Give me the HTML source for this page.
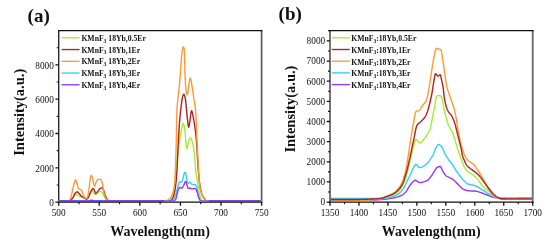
<!DOCTYPE html>
<html><head><meta charset="utf-8"><style>
html,body{margin:0;padding:0;background:#fff;}
svg{display:block;}
text{font-family:"Liberation Serif","Times New Roman",serif;fill:#111;}
.tk text{font-size:9.3px;}
.lg{font-size:7.7px;font-weight:bold;}
.sub{font-size:5.5px;}
.ttl{font-weight:bold;}
.cv path{fill:none;stroke-width:1.4;stroke-linejoin:round;}
</style></head><body>
<svg width="550" height="250" viewBox="0 0 550 250">
<rect width="550" height="250" fill="#fff"/>
<g class="cv">
<path d="M330.00,200.31 L330.40,200.31 L330.80,200.31 L331.20,200.31 L331.60,200.31 L332.00,200.31 L332.40,200.31 L332.80,200.31 L333.20,200.31 L333.60,200.31 L334.00,200.31 L334.40,200.31 L334.80,200.31 L335.20,200.31 L335.60,200.31 L336.00,200.31 L336.40,200.31 L336.80,200.31 L337.20,200.31 L337.60,200.31 L338.00,200.31 L338.40,200.31 L338.80,200.30 L339.20,200.30 L339.60,200.30 L340.00,200.30 L340.40,200.30 L340.80,200.30 L341.20,200.30 L341.60,200.30 L342.00,200.30 L342.40,200.30 L342.80,200.30 L343.20,200.30 L343.60,200.30 L344.00,200.30 L344.40,200.30 L344.80,200.30 L345.20,200.30 L345.60,200.30 L346.00,200.30 L346.40,200.30 L346.80,200.30 L347.20,200.30 L347.60,200.30 L348.00,200.30 L348.40,200.30 L348.80,200.30 L349.20,200.30 L349.60,200.30 L350.00,200.30 L350.40,200.30 L350.80,200.30 L351.20,200.30 L351.60,200.30 L352.00,200.30 L352.40,200.29 L352.80,200.29 L353.20,200.29 L353.60,200.29 L354.00,200.29 L354.40,200.29 L354.80,200.29 L355.20,200.29 L355.60,200.29 L356.00,200.29 L356.40,200.29 L356.80,200.29 L357.20,200.29 L357.60,200.29 L358.00,200.29 L358.40,200.29 L358.80,200.29 L359.20,200.29 L359.60,200.29 L360.00,200.28 L360.40,200.28 L360.80,200.28 L361.20,200.28 L361.60,200.28 L362.00,200.28 L362.40,200.27 L362.80,200.27 L363.20,200.27 L363.60,200.27 L364.00,200.26 L364.40,200.26 L364.80,200.26 L365.20,200.25 L365.60,200.25 L366.00,200.24 L366.40,200.24 L366.80,200.24 L367.20,200.23 L367.60,200.23 L368.00,200.22 L368.40,200.22 L368.80,200.21 L369.20,200.21 L369.60,200.20 L370.00,200.19 L370.40,200.19 L370.80,200.18 L371.20,200.17 L371.60,200.16 L372.00,200.15 L372.40,200.14 L372.80,200.12 L373.20,200.11 L373.60,200.09 L374.00,200.07 L374.40,200.05 L374.80,200.03 L375.20,200.00 L375.60,199.98 L376.00,199.95 L376.40,199.93 L376.80,199.90 L377.20,199.87 L377.60,199.84 L378.00,199.81 L378.40,199.78 L378.80,199.75 L379.20,199.72 L379.60,199.69 L380.00,199.66 L380.40,199.62 L380.80,199.59 L381.20,199.56 L381.60,199.52 L382.00,199.49 L382.40,199.46 L382.80,199.42 L383.20,199.38 L383.60,199.35 L384.00,199.31 L384.40,199.27 L384.80,199.22 L385.20,199.18 L385.60,199.13 L386.00,199.09 L386.40,199.04 L386.80,198.99 L387.20,198.94 L387.60,198.89 L388.00,198.83 L388.40,198.78 L388.80,198.72 L389.20,198.66 L389.60,198.60 L390.00,198.54 L390.40,198.47 L390.80,198.41 L391.20,198.34 L391.60,198.27 L392.00,198.20 L392.40,198.13 L392.80,198.06 L393.20,197.98 L393.60,197.91 L394.00,197.83 L394.40,197.75 L394.80,197.66 L395.20,197.57 L395.60,197.47 L396.00,197.37 L396.40,197.27 L396.80,197.16 L397.20,197.05 L397.60,196.93 L398.00,196.80 L398.40,196.67 L398.80,196.53 L399.20,196.38 L399.60,196.23 L400.00,196.07 L400.40,195.90 L400.80,195.72 L401.20,195.53 L401.60,195.31 L402.00,195.07 L402.40,194.82 L402.80,194.55 L403.20,194.26 L403.60,193.95 L404.00,193.63 L404.40,193.28 L404.80,192.92 L405.20,192.54 L405.60,192.14 L406.00,191.72 L406.40,191.22 L406.80,190.61 L407.20,189.93 L407.60,189.20 L408.00,188.46 L408.40,187.73 L408.80,187.04 L409.20,186.42 L409.60,185.87 L410.00,185.32 L410.40,184.79 L410.80,184.28 L411.20,183.79 L411.60,183.32 L412.00,182.88 L412.40,182.47 L412.80,182.10 L413.20,181.72 L413.60,181.32 L414.00,180.94 L414.40,180.61 L414.80,180.36 L415.20,180.22 L415.60,180.21 L416.00,180.37 L416.40,180.64 L416.80,180.99 L417.20,181.35 L417.60,181.67 L418.00,181.91 L418.40,182.07 L418.80,182.22 L419.20,182.36 L419.60,182.48 L420.00,182.56 L420.40,182.59 L420.80,182.58 L421.20,182.53 L421.60,182.45 L422.00,182.34 L422.40,182.22 L422.80,182.09 L423.20,181.95 L423.60,181.82 L424.00,181.69 L424.40,181.57 L424.80,181.44 L425.20,181.31 L425.60,181.16 L426.00,181.01 L426.40,180.84 L426.80,180.65 L427.20,180.45 L427.60,180.22 L428.00,179.95 L428.40,179.61 L428.80,179.20 L429.20,178.75 L429.60,178.26 L430.00,177.73 L430.40,177.19 L430.80,176.65 L431.20,176.11 L431.60,175.57 L432.00,174.99 L432.40,174.39 L432.80,173.77 L433.20,173.13 L433.60,172.49 L434.00,171.86 L434.40,171.22 L434.80,170.53 L435.20,169.79 L435.60,169.09 L436.00,168.46 L436.40,167.98 L436.80,167.68 L437.20,167.44 L437.60,167.24 L438.00,167.06 L438.40,166.91 L438.80,166.75 L439.20,166.59 L439.60,166.45 L440.00,166.40 L440.40,166.58 L440.80,167.06 L441.20,167.76 L441.60,168.62 L442.00,169.54 L442.40,170.47 L442.80,171.31 L443.20,172.00 L443.60,172.59 L444.00,173.17 L444.40,173.75 L444.80,174.30 L445.20,174.81 L445.60,175.27 L446.00,175.67 L446.40,176.00 L446.80,176.26 L447.20,176.49 L447.60,176.69 L448.00,176.87 L448.40,177.04 L448.80,177.21 L449.20,177.40 L449.60,177.60 L450.00,177.82 L450.40,178.03 L450.80,178.25 L451.20,178.47 L451.60,178.70 L452.00,178.93 L452.40,179.18 L452.80,179.44 L453.20,179.71 L453.60,180.00 L454.00,180.32 L454.40,180.67 L454.80,181.05 L455.20,181.46 L455.60,181.87 L456.00,182.30 L456.40,182.74 L456.80,183.17 L457.20,183.59 L457.60,184.00 L458.00,184.41 L458.40,184.82 L458.80,185.24 L459.20,185.66 L459.60,186.07 L460.00,186.46 L460.40,186.84 L460.80,187.20 L461.20,187.55 L461.60,187.91 L462.00,188.26 L462.40,188.60 L462.80,188.91 L463.20,189.19 L463.60,189.42 L464.00,189.60 L464.40,189.74 L464.80,189.88 L465.20,190.01 L465.60,190.14 L466.00,190.25 L466.40,190.36 L466.80,190.46 L467.20,190.56 L467.60,190.64 L468.00,190.71 L468.40,190.77 L468.80,190.82 L469.20,190.86 L469.60,190.89 L470.00,190.91 L470.40,190.92 L470.80,190.93 L471.20,190.93 L471.60,190.94 L472.00,190.95 L472.40,190.95 L472.80,190.96 L473.20,190.96 L473.60,190.97 L474.00,190.98 L474.40,190.99 L474.80,191.00 L475.20,191.03 L475.60,191.08 L476.00,191.15 L476.40,191.23 L476.80,191.33 L477.20,191.44 L477.60,191.56 L478.00,191.69 L478.40,191.82 L478.80,191.95 L479.20,192.08 L479.60,192.20 L480.00,192.32 L480.40,192.45 L480.80,192.59 L481.20,192.73 L481.60,192.88 L482.00,193.03 L482.40,193.18 L482.80,193.34 L483.20,193.50 L483.60,193.66 L484.00,193.82 L484.40,193.98 L484.80,194.14 L485.20,194.29 L485.60,194.45 L486.00,194.60 L486.40,194.75 L486.80,194.91 L487.20,195.07 L487.60,195.23 L488.00,195.39 L488.40,195.56 L488.80,195.72 L489.20,195.88 L489.60,196.04 L490.00,196.19 L490.40,196.35 L490.80,196.49 L491.20,196.63 L491.60,196.76 L492.00,196.89 L492.40,197.00 L492.80,197.11 L493.20,197.21 L493.60,197.30 L494.00,197.39 L494.40,197.48 L494.80,197.56 L495.20,197.65 L495.60,197.73 L496.00,197.81 L496.40,197.89 L496.80,197.97 L497.20,198.06 L497.60,198.14 L498.00,198.24 L498.40,198.35 L498.80,198.46 L499.20,198.57 L499.60,198.69 L500.00,198.80 L500.40,198.90 L500.80,199.00 L501.20,199.09 L501.60,199.17 L502.00,199.23 L502.40,199.27 L502.80,199.30 L503.20,199.30 L503.60,199.30 L504.00,199.30 L504.40,199.30 L504.80,199.30 L505.20,199.30 L505.60,199.30 L506.00,199.30 L506.40,199.30 L506.80,199.30 L507.20,199.30 L507.60,199.30 L508.00,199.30 L508.40,199.30 L508.80,199.30 L509.20,199.30 L509.60,199.30 L510.00,199.30 L510.40,199.30 L510.80,199.30 L511.20,199.30 L511.60,199.30 L512.00,199.30 L512.40,199.30 L512.80,199.30 L513.20,199.30 L513.60,199.30 L514.00,199.30 L514.40,199.30 L514.80,199.30 L515.20,199.30 L515.60,199.30 L516.00,199.30 L516.40,199.30 L516.80,199.30 L517.20,199.30 L517.60,199.30 L518.00,199.30 L518.40,199.30 L518.80,199.30 L519.20,199.30 L519.60,199.30 L520.00,199.30 L520.40,199.30 L520.80,199.30 L521.20,199.30 L521.60,199.30 L522.00,199.30 L522.40,199.30 L522.80,199.30 L523.20,199.30 L523.60,199.30 L524.00,199.30 L524.40,199.30 L524.80,199.30 L525.20,199.30 L525.60,199.30 L526.00,199.30 L526.40,199.30 L526.80,199.30 L527.20,199.30 L527.60,199.30 L528.00,199.30 L528.40,199.30 L528.80,199.30 L529.20,199.30 L529.60,199.30 L530.00,199.30 L530.40,199.30 L530.80,199.30 L531.20,199.30 L531.60,199.30 L532.00,199.30 L532.40,199.30" stroke="#9436f8"/>
<path d="M330.00,200.31 L330.40,200.31 L330.80,200.31 L331.20,200.31 L331.60,200.31 L332.00,200.31 L332.40,200.31 L332.80,200.31 L333.20,200.31 L333.60,200.31 L334.00,200.31 L334.40,200.31 L334.80,200.31 L335.20,200.31 L335.60,200.31 L336.00,200.31 L336.40,200.31 L336.80,200.31 L337.20,200.31 L337.60,200.31 L338.00,200.31 L338.40,200.31 L338.80,200.31 L339.20,200.30 L339.60,200.30 L340.00,200.30 L340.40,200.30 L340.80,200.30 L341.20,200.30 L341.60,200.30 L342.00,200.30 L342.40,200.30 L342.80,200.30 L343.20,200.30 L343.60,200.30 L344.00,200.30 L344.40,200.30 L344.80,200.30 L345.20,200.30 L345.60,200.30 L346.00,200.30 L346.40,200.30 L346.80,200.30 L347.20,200.30 L347.60,200.30 L348.00,200.30 L348.40,200.30 L348.80,200.30 L349.20,200.30 L349.60,200.30 L350.00,200.30 L350.40,200.30 L350.80,200.30 L351.20,200.30 L351.60,200.30 L352.00,200.30 L352.40,200.30 L352.80,200.29 L353.20,200.29 L353.60,200.29 L354.00,200.29 L354.40,200.29 L354.80,200.29 L355.20,200.29 L355.60,200.29 L356.00,200.29 L356.40,200.29 L356.80,200.29 L357.20,200.29 L357.60,200.29 L358.00,200.29 L358.40,200.29 L358.80,200.29 L359.20,200.29 L359.60,200.28 L360.00,200.28 L360.40,200.28 L360.80,200.27 L361.20,200.26 L361.60,200.25 L362.00,200.25 L362.40,200.24 L362.80,200.22 L363.20,200.21 L363.60,200.20 L364.00,200.19 L364.40,200.17 L364.80,200.16 L365.20,200.14 L365.60,200.12 L366.00,200.11 L366.40,200.09 L366.80,200.07 L367.20,200.05 L367.60,200.03 L368.00,200.01 L368.40,199.99 L368.80,199.97 L369.20,199.95 L369.60,199.93 L370.00,199.91 L370.40,199.89 L370.80,199.87 L371.20,199.85 L371.60,199.82 L372.00,199.80 L372.40,199.77 L372.80,199.74 L373.20,199.71 L373.60,199.68 L374.00,199.65 L374.40,199.61 L374.80,199.58 L375.20,199.54 L375.60,199.50 L376.00,199.46 L376.40,199.42 L376.80,199.38 L377.20,199.33 L377.60,199.29 L378.00,199.24 L378.40,199.19 L378.80,199.14 L379.20,199.09 L379.60,199.04 L380.00,198.98 L380.40,198.93 L380.80,198.87 L381.20,198.81 L381.60,198.75 L382.00,198.69 L382.40,198.63 L382.80,198.56 L383.20,198.49 L383.60,198.42 L384.00,198.34 L384.40,198.26 L384.80,198.18 L385.20,198.09 L385.60,198.00 L386.00,197.90 L386.40,197.80 L386.80,197.70 L387.20,197.59 L387.60,197.47 L388.00,197.35 L388.40,197.23 L388.80,197.11 L389.20,196.97 L389.60,196.84 L390.00,196.70 L390.40,196.55 L390.80,196.40 L391.20,196.25 L391.60,196.08 L392.00,195.92 L392.40,195.75 L392.80,195.57 L393.20,195.39 L393.60,195.20 L394.00,195.00 L394.40,194.78 L394.80,194.53 L395.20,194.27 L395.60,193.98 L396.00,193.67 L396.40,193.34 L396.80,192.99 L397.20,192.62 L397.60,192.24 L398.00,191.83 L398.40,191.41 L398.80,190.97 L399.20,190.51 L399.60,190.03 L400.00,189.54 L400.40,189.03 L400.80,188.49 L401.20,187.87 L401.60,187.19 L402.00,186.45 L402.40,185.66 L402.80,184.82 L403.20,183.94 L403.60,183.02 L404.00,182.07 L404.40,181.09 L404.80,180.08 L405.20,178.97 L405.60,177.79 L406.00,176.54 L406.40,175.23 L406.80,173.88 L407.20,172.48 L407.60,171.06 L408.00,169.62 L408.40,168.08 L408.80,166.44 L409.20,164.73 L409.60,162.96 L410.00,161.16 L410.40,159.36 L410.80,157.58 L411.20,155.85 L411.60,154.18 L412.00,152.61 L412.40,151.13 L412.80,149.54 L413.20,147.86 L413.60,146.17 L414.00,144.52 L414.40,143.00 L414.80,141.68 L415.20,140.62 L415.60,139.90 L416.00,139.60 L416.40,139.66 L416.80,139.88 L417.20,140.23 L417.60,140.65 L418.00,141.13 L418.40,141.60 L418.80,142.05 L419.20,142.42 L419.60,142.68 L420.00,142.80 L420.40,142.76 L420.80,142.60 L421.20,142.35 L421.60,142.02 L422.00,141.61 L422.40,141.15 L422.80,140.64 L423.20,140.09 L423.60,139.53 L424.00,138.96 L424.40,138.40 L424.80,137.85 L425.20,137.34 L425.60,136.82 L426.00,136.30 L426.40,135.76 L426.80,135.20 L427.20,134.60 L427.60,133.98 L428.00,133.30 L428.40,132.58 L428.80,131.80 L429.20,130.95 L429.60,130.03 L430.00,128.89 L430.40,127.46 L430.80,125.88 L431.20,124.12 L431.60,122.16 L432.00,120.11 L432.40,118.06 L432.80,116.03 L433.20,114.00 L433.60,111.93 L434.00,109.82 L434.40,107.66 L434.80,105.44 L435.20,102.90 L435.60,100.25 L436.00,98.27 L436.40,96.89 L436.80,95.99 L437.20,95.81 L437.60,95.69 L438.00,95.61 L438.40,95.55 L438.80,95.52 L439.20,95.51 L439.60,95.55 L440.00,95.66 L440.40,95.84 L440.80,96.09 L441.20,96.40 L441.60,97.32 L442.00,98.77 L442.40,100.38 L442.80,102.30 L443.20,104.40 L443.60,106.54 L444.00,108.60 L444.40,110.44 L444.80,112.18 L445.20,113.87 L445.60,115.51 L446.00,117.09 L446.40,118.59 L446.80,120.00 L447.20,121.36 L447.60,122.67 L448.00,123.91 L448.40,125.03 L448.80,126.00 L449.20,126.81 L449.60,127.51 L450.00,128.17 L450.40,128.83 L450.80,129.51 L451.20,130.16 L451.60,130.81 L452.00,131.50 L452.40,132.29 L452.80,133.21 L453.20,134.28 L453.60,135.48 L454.00,136.75 L454.40,138.06 L454.80,139.36 L455.20,140.64 L455.60,141.96 L456.00,143.32 L456.40,144.70 L456.80,146.08 L457.20,147.43 L457.60,148.75 L458.00,150.00 L458.40,151.20 L458.80,152.36 L459.20,153.49 L459.60,154.60 L460.00,155.69 L460.40,156.77 L460.80,157.84 L461.20,158.92 L461.60,160.00 L462.00,161.13 L462.40,162.31 L462.80,163.48 L463.20,164.58 L463.60,165.58 L464.00,166.40 L464.40,167.10 L464.80,167.75 L465.20,168.36 L465.60,168.93 L466.00,169.46 L466.40,169.96 L466.80,170.41 L467.20,170.84 L467.60,171.24 L468.00,171.60 L468.40,171.93 L468.80,172.24 L469.20,172.51 L469.60,172.76 L470.00,173.00 L470.40,173.23 L470.80,173.45 L471.20,173.66 L471.60,173.88 L472.00,174.11 L472.40,174.35 L472.80,174.61 L473.20,174.89 L473.60,175.20 L474.00,175.54 L474.40,175.89 L474.80,176.27 L475.20,176.67 L475.60,177.09 L476.00,177.52 L476.40,177.96 L476.80,178.42 L477.20,178.89 L477.60,179.37 L478.00,179.86 L478.40,180.35 L478.80,180.86 L479.20,181.42 L479.60,182.01 L480.00,182.62 L480.40,183.21 L480.80,183.75 L481.20,184.24 L481.60,184.70 L482.00,185.14 L482.40,185.56 L482.80,185.97 L483.20,186.37 L483.60,186.76 L484.00,187.14 L484.40,187.52 L484.80,187.89 L485.20,188.26 L485.60,188.63 L486.00,189.00 L486.40,189.37 L486.80,189.75 L487.20,190.12 L487.60,190.50 L488.00,190.87 L488.40,191.24 L488.80,191.60 L489.20,191.96 L489.60,192.32 L490.00,192.67 L490.40,193.01 L490.80,193.34 L491.20,193.67 L491.60,193.99 L492.00,194.30 L492.40,194.60 L492.80,194.90 L493.20,195.20 L493.60,195.49 L494.00,195.79 L494.40,196.08 L494.80,196.36 L495.20,196.63 L495.60,196.89 L496.00,197.13 L496.40,197.35 L496.80,197.55 L497.20,197.72 L497.60,197.87 L498.00,198.02 L498.40,198.16 L498.80,198.30 L499.20,198.44 L499.60,198.57 L500.00,198.69 L500.40,198.80 L500.80,198.90 L501.20,198.99 L501.60,199.07 L502.00,199.13 L502.40,199.17 L502.80,199.20 L503.20,199.20 L503.60,199.21 L504.00,199.21 L504.40,199.21 L504.80,199.21 L505.20,199.22 L505.60,199.22 L506.00,199.22 L506.40,199.23 L506.80,199.23 L507.20,199.23 L507.60,199.23 L508.00,199.24 L508.40,199.24 L508.80,199.24 L509.20,199.24 L509.60,199.25 L510.00,199.25 L510.40,199.25 L510.80,199.25 L511.20,199.26 L511.60,199.26 L512.00,199.26 L512.40,199.26 L512.80,199.26 L513.20,199.26 L513.60,199.27 L514.00,199.27 L514.40,199.27 L514.80,199.27 L515.20,199.27 L515.60,199.27 L516.00,199.28 L516.40,199.28 L516.80,199.28 L517.20,199.28 L517.60,199.28 L518.00,199.28 L518.40,199.28 L518.80,199.28 L519.20,199.29 L519.60,199.29 L520.00,199.29 L520.40,199.29 L520.80,199.29 L521.20,199.29 L521.60,199.29 L522.00,199.29 L522.40,199.29 L522.80,199.29 L523.20,199.29 L523.60,199.29 L524.00,199.29 L524.40,199.30 L524.80,199.30 L525.20,199.30 L525.60,199.30 L526.00,199.30 L526.40,199.30 L526.80,199.30 L527.20,199.30 L527.60,199.30 L528.00,199.30 L528.40,199.30 L528.80,199.30 L529.20,199.30 L529.60,199.30 L530.00,199.30 L530.40,199.30 L530.80,199.30 L531.20,199.30 L531.60,199.30 L532.00,199.30 L532.40,199.30" stroke="#a2ee30"/>
<path d="M330.00,198.39 L330.40,198.39 L330.80,198.39 L331.20,198.39 L331.60,198.39 L332.00,198.39 L332.40,198.39 L332.80,198.39 L333.20,198.39 L333.60,198.39 L334.00,198.39 L334.40,198.39 L334.80,198.39 L335.20,198.39 L335.60,198.39 L336.00,198.39 L336.40,198.39 L336.80,198.39 L337.20,198.39 L337.60,198.39 L338.00,198.39 L338.40,198.39 L338.80,198.39 L339.20,198.39 L339.60,198.39 L340.00,198.39 L340.40,198.39 L340.80,198.39 L341.20,198.39 L341.60,198.39 L342.00,198.39 L342.40,198.39 L342.80,198.39 L343.20,198.39 L343.60,198.39 L344.00,198.39 L344.40,198.39 L344.80,198.39 L345.20,198.39 L345.60,198.39 L346.00,198.39 L346.40,198.39 L346.80,198.39 L347.20,198.39 L347.60,198.39 L348.00,198.39 L348.40,198.39 L348.80,198.39 L349.20,198.39 L349.60,198.39 L350.00,198.39 L350.40,198.39 L350.80,198.39 L351.20,198.39 L351.60,198.39 L352.00,198.39 L352.40,198.39 L352.80,198.39 L353.20,198.39 L353.60,198.39 L354.00,198.39 L354.40,198.39 L354.80,198.39 L355.20,198.39 L355.60,198.39 L356.00,198.39 L356.40,198.39 L356.80,198.39 L357.20,198.39 L357.60,198.39 L358.00,198.39 L358.40,198.39 L358.80,198.39 L359.20,198.39 L359.60,198.39 L360.00,198.39 L360.40,198.39 L360.80,198.39 L361.20,198.39 L361.60,198.40 L362.00,198.40 L362.40,198.40 L362.80,198.40 L363.20,198.40 L363.60,198.40 L364.00,198.40 L364.40,198.41 L364.80,198.41 L365.20,198.41 L365.60,198.41 L366.00,198.41 L366.40,198.42 L366.80,198.42 L367.20,198.42 L367.60,198.42 L368.00,198.42 L368.40,198.43 L368.80,198.43 L369.20,198.43 L369.60,198.43 L370.00,198.44 L370.40,198.44 L370.80,198.44 L371.20,198.44 L371.60,198.45 L372.00,198.45 L372.40,198.45 L372.80,198.45 L373.20,198.45 L373.60,198.46 L374.00,198.46 L374.40,198.46 L374.80,198.46 L375.20,198.46 L375.60,198.46 L376.00,198.47 L376.40,198.47 L376.80,198.47 L377.20,198.47 L377.60,198.47 L378.00,198.47 L378.40,198.47 L378.80,198.47 L379.20,198.47 L379.60,198.47 L380.00,198.47 L380.40,198.47 L380.80,198.46 L381.20,198.45 L381.60,198.44 L382.00,198.43 L382.40,198.41 L382.80,198.39 L383.20,198.36 L383.60,198.34 L384.00,198.31 L384.40,198.28 L384.80,198.25 L385.20,198.21 L385.60,198.18 L386.00,198.14 L386.40,198.10 L386.80,198.06 L387.20,198.02 L387.60,197.98 L388.00,197.93 L388.40,197.89 L388.80,197.83 L389.20,197.76 L389.60,197.69 L390.00,197.60 L390.40,197.51 L390.80,197.40 L391.20,197.29 L391.60,197.17 L392.00,197.04 L392.40,196.90 L392.80,196.75 L393.20,196.60 L393.60,196.44 L394.00,196.27 L394.40,196.10 L394.80,195.93 L395.20,195.74 L395.60,195.55 L396.00,195.36 L396.40,195.16 L396.80,194.95 L397.20,194.71 L397.60,194.46 L398.00,194.18 L398.40,193.88 L398.80,193.56 L399.20,193.23 L399.60,192.87 L400.00,192.49 L400.40,192.10 L400.80,191.69 L401.20,191.26 L401.60,190.81 L402.00,190.35 L402.40,189.87 L402.80,189.37 L403.20,188.85 L403.60,188.26 L404.00,187.58 L404.40,186.84 L404.80,186.03 L405.20,185.19 L405.60,184.32 L406.00,183.44 L406.40,182.57 L406.80,181.72 L407.20,180.90 L407.60,180.11 L408.00,179.33 L408.40,178.56 L408.80,177.78 L409.20,177.01 L409.60,176.22 L410.00,175.43 L410.40,174.62 L410.80,173.79 L411.20,172.94 L411.60,172.04 L412.00,171.05 L412.40,170.03 L412.80,169.06 L413.20,168.20 L413.60,167.50 L414.00,166.79 L414.40,166.09 L414.80,165.45 L415.20,164.93 L415.60,164.56 L416.00,164.40 L416.40,164.50 L416.80,164.84 L417.20,165.34 L417.60,165.92 L418.00,166.52 L418.40,167.05 L418.80,167.43 L419.20,167.60 L419.60,167.59 L420.00,167.54 L420.40,167.45 L420.80,167.34 L421.20,167.21 L421.60,167.06 L422.00,166.91 L422.40,166.74 L422.80,166.58 L423.20,166.39 L423.60,166.17 L424.00,165.92 L424.40,165.64 L424.80,165.34 L425.20,165.02 L425.60,164.68 L426.00,164.31 L426.40,163.94 L426.80,163.54 L427.20,163.14 L427.60,162.72 L428.00,162.29 L428.40,161.86 L428.80,161.41 L429.20,160.93 L429.60,160.42 L430.00,159.88 L430.40,159.30 L430.80,158.70 L431.20,158.07 L431.60,157.42 L432.00,156.73 L432.40,156.02 L432.80,155.29 L433.20,154.52 L433.60,153.62 L434.00,152.60 L434.40,151.51 L434.80,150.41 L435.20,149.36 L435.60,148.43 L436.00,147.67 L436.40,146.98 L436.80,146.29 L437.20,145.63 L437.60,145.07 L438.00,144.65 L438.40,144.42 L438.80,144.41 L439.20,144.56 L439.60,144.81 L440.00,145.14 L440.40,145.49 L440.80,145.85 L441.20,146.28 L441.60,146.78 L442.00,147.35 L442.40,147.98 L442.80,148.67 L443.20,149.45 L443.60,150.45 L444.00,151.54 L444.40,152.56 L444.80,153.40 L445.20,154.18 L445.60,154.93 L446.00,155.64 L446.40,156.33 L446.80,156.99 L447.20,157.63 L447.60,158.24 L448.00,158.84 L448.40,159.43 L448.80,160.00 L449.20,160.55 L449.60,161.05 L450.00,161.54 L450.40,162.01 L450.80,162.48 L451.20,162.96 L451.60,163.46 L452.00,164.00 L452.40,164.58 L452.80,165.19 L453.20,165.83 L453.60,166.48 L454.00,167.15 L454.40,167.82 L454.80,168.49 L455.20,169.15 L455.60,169.79 L456.00,170.40 L456.40,170.99 L456.80,171.58 L457.20,172.16 L457.60,172.74 L458.00,173.30 L458.40,173.86 L458.80,174.41 L459.20,174.95 L459.60,175.48 L460.00,176.00 L460.40,176.52 L460.80,177.04 L461.20,177.55 L461.60,178.07 L462.00,178.57 L462.40,179.05 L462.80,179.52 L463.20,179.97 L463.60,180.40 L464.00,180.80 L464.40,181.19 L464.80,181.58 L465.20,181.97 L465.60,182.35 L466.00,182.71 L466.40,183.04 L466.80,183.35 L467.20,183.61 L467.60,183.83 L468.00,184.00 L468.40,184.13 L468.80,184.23 L469.20,184.33 L469.60,184.41 L470.00,184.48 L470.40,184.56 L470.80,184.63 L471.20,184.71 L471.60,184.80 L472.00,184.89 L472.40,184.98 L472.80,185.07 L473.20,185.16 L473.60,185.25 L474.00,185.35 L474.40,185.46 L474.80,185.57 L475.20,185.70 L475.60,185.84 L476.00,186.00 L476.40,186.20 L476.80,186.42 L477.20,186.65 L477.60,186.91 L478.00,187.17 L478.40,187.43 L478.80,187.69 L479.20,187.95 L479.60,188.20 L480.00,188.44 L480.40,188.69 L480.80,188.93 L481.20,189.18 L481.60,189.43 L482.00,189.68 L482.40,189.93 L482.80,190.18 L483.20,190.43 L483.60,190.69 L484.00,190.94 L484.40,191.19 L484.80,191.45 L485.20,191.70 L485.60,191.95 L486.00,192.20 L486.40,192.45 L486.80,192.72 L487.20,192.98 L487.60,193.26 L488.00,193.53 L488.40,193.81 L488.80,194.08 L489.20,194.35 L489.60,194.62 L490.00,194.88 L490.40,195.13 L490.80,195.37 L491.20,195.60 L491.60,195.82 L492.00,196.02 L492.40,196.20 L492.80,196.38 L493.20,196.56 L493.60,196.75 L494.00,196.93 L494.40,197.11 L494.80,197.28 L495.20,197.44 L495.60,197.58 L496.00,197.70 L496.40,197.79 L496.80,197.86 L497.20,197.90 L497.60,197.90 L498.00,197.90 L498.40,197.90 L498.80,197.90 L499.20,197.90 L499.60,197.90 L500.00,197.90 L500.40,197.90 L500.80,197.90 L501.20,197.90 L501.60,197.90 L502.00,197.90 L502.40,197.90 L502.80,197.90 L503.20,197.90 L503.60,197.90 L504.00,197.90 L504.40,197.90 L504.80,197.90 L505.20,197.90 L505.60,197.90 L506.00,197.90 L506.40,197.90 L506.80,197.89 L507.20,197.89 L507.60,197.89 L508.00,197.89 L508.40,197.89 L508.80,197.89 L509.20,197.89 L509.60,197.88 L510.00,197.88 L510.40,197.88 L510.80,197.88 L511.20,197.87 L511.60,197.87 L512.00,197.87 L512.40,197.87 L512.80,197.86 L513.20,197.86 L513.60,197.86 L514.00,197.85 L514.40,197.85 L514.80,197.85 L515.20,197.84 L515.60,197.84 L516.00,197.84 L516.40,197.83 L516.80,197.83 L517.20,197.83 L517.60,197.82 L518.00,197.82 L518.40,197.81 L518.80,197.81 L519.20,197.80 L519.60,197.80 L520.00,197.80 L520.40,197.79 L520.80,197.79 L521.20,197.78 L521.60,197.78 L522.00,197.77 L522.40,197.76 L522.80,197.76 L523.20,197.75 L523.60,197.75 L524.00,197.74 L524.40,197.74 L524.80,197.73 L525.20,197.73 L525.60,197.72 L526.00,197.71 L526.40,197.71 L526.80,197.70 L527.20,197.69 L527.60,197.69 L528.00,197.68 L528.40,197.68 L528.80,197.67 L529.20,197.66 L529.60,197.66 L530.00,197.65 L530.40,197.64 L530.80,197.63 L531.20,197.63 L531.60,197.62 L532.00,197.61 L532.40,197.61" stroke="#33ccff"/>
<path d="M330.00,200.41 L330.40,200.41 L330.80,200.41 L331.20,200.41 L331.60,200.41 L332.00,200.41 L332.40,200.41 L332.80,200.41 L333.20,200.41 L333.60,200.41 L334.00,200.41 L334.40,200.41 L334.80,200.41 L335.20,200.41 L335.60,200.40 L336.00,200.40 L336.40,200.40 L336.80,200.40 L337.20,200.40 L337.60,200.40 L338.00,200.40 L338.40,200.40 L338.80,200.40 L339.20,200.40 L339.60,200.40 L340.00,200.40 L340.40,200.40 L340.80,200.40 L341.20,200.40 L341.60,200.40 L342.00,200.40 L342.40,200.39 L342.80,200.39 L343.20,200.39 L343.60,200.39 L344.00,200.39 L344.40,200.39 L344.80,200.39 L345.20,200.39 L345.60,200.39 L346.00,200.38 L346.40,200.38 L346.80,200.38 L347.20,200.38 L347.60,200.38 L348.00,200.38 L348.40,200.38 L348.80,200.38 L349.20,200.37 L349.60,200.37 L350.00,200.37 L350.40,200.37 L350.80,200.37 L351.20,200.37 L351.60,200.36 L352.00,200.36 L352.40,200.36 L352.80,200.36 L353.20,200.36 L353.60,200.36 L354.00,200.35 L354.40,200.35 L354.80,200.35 L355.20,200.35 L355.60,200.35 L356.00,200.34 L356.40,200.34 L356.80,200.34 L357.20,200.34 L357.60,200.33 L358.00,200.33 L358.40,200.33 L358.80,200.33 L359.20,200.32 L359.60,200.32 L360.00,200.31 L360.40,200.30 L360.80,200.29 L361.20,200.28 L361.60,200.27 L362.00,200.25 L362.40,200.23 L362.80,200.22 L363.20,200.20 L363.60,200.17 L364.00,200.15 L364.40,200.13 L364.80,200.10 L365.20,200.08 L365.60,200.05 L366.00,200.02 L366.40,200.00 L366.80,199.97 L367.20,199.94 L367.60,199.91 L368.00,199.88 L368.40,199.85 L368.80,199.82 L369.20,199.79 L369.60,199.75 L370.00,199.72 L370.40,199.69 L370.80,199.66 L371.20,199.63 L371.60,199.60 L372.00,199.56 L372.40,199.53 L372.80,199.49 L373.20,199.46 L373.60,199.42 L374.00,199.38 L374.40,199.34 L374.80,199.29 L375.20,199.25 L375.60,199.20 L376.00,199.15 L376.40,199.10 L376.80,199.05 L377.20,199.00 L377.60,198.94 L378.00,198.88 L378.40,198.82 L378.80,198.76 L379.20,198.69 L379.60,198.62 L380.00,198.55 L380.40,198.47 L380.80,198.38 L381.20,198.28 L381.60,198.17 L382.00,198.05 L382.40,197.93 L382.80,197.80 L383.20,197.66 L383.60,197.51 L384.00,197.36 L384.40,197.21 L384.80,197.06 L385.20,196.90 L385.60,196.74 L386.00,196.58 L386.40,196.42 L386.80,196.26 L387.20,196.10 L387.60,195.95 L388.00,195.79 L388.40,195.63 L388.80,195.47 L389.20,195.30 L389.60,195.13 L390.00,194.96 L390.40,194.78 L390.80,194.59 L391.20,194.39 L391.60,194.19 L392.00,193.98 L392.40,193.76 L392.80,193.53 L393.20,193.28 L393.60,193.03 L394.00,192.75 L394.40,192.45 L394.80,192.13 L395.20,191.79 L395.60,191.42 L396.00,191.04 L396.40,190.63 L396.80,190.21 L397.20,189.77 L397.60,189.31 L398.00,188.83 L398.40,188.33 L398.80,187.82 L399.20,187.29 L399.60,186.74 L400.00,186.15 L400.40,185.53 L400.80,184.87 L401.20,184.16 L401.60,183.41 L402.00,182.61 L402.40,181.75 L402.80,180.83 L403.20,179.85 L403.60,178.68 L404.00,177.32 L404.40,175.84 L404.80,174.28 L405.20,172.67 L405.60,170.95 L406.00,169.10 L406.40,167.08 L406.80,164.89 L407.20,162.53 L407.60,160.03 L408.00,157.43 L408.40,154.75 L408.80,152.03 L409.20,149.29 L409.60,146.58 L410.00,143.92 L410.40,141.35 L410.80,138.87 L411.20,136.38 L411.60,133.90 L412.00,131.44 L412.40,129.04 L412.80,126.73 L413.20,124.54 L413.60,122.44 L414.00,120.17 L414.40,117.85 L414.80,115.66 L415.20,113.76 L415.60,112.33 L416.00,111.56 L416.40,111.31 L416.80,111.13 L417.20,111.01 L417.60,110.91 L418.00,110.82 L418.40,110.72 L418.80,110.58 L419.20,110.39 L419.60,110.08 L420.00,109.64 L420.40,109.10 L420.80,108.47 L421.20,107.80 L421.60,107.11 L422.00,106.42 L422.40,105.77 L422.80,105.19 L423.20,104.66 L423.60,104.18 L424.00,103.71 L424.40,103.24 L424.80,102.74 L425.20,102.20 L425.60,101.59 L426.00,100.88 L426.40,100.06 L426.80,98.99 L427.20,97.55 L427.60,95.81 L428.00,93.81 L428.40,91.61 L428.80,89.29 L429.20,86.89 L429.60,84.48 L430.00,82.11 L430.40,79.64 L430.80,76.93 L431.20,74.09 L431.60,71.24 L432.00,68.49 L432.40,65.96 L432.80,63.63 L433.20,61.40 L433.60,59.27 L434.00,57.23 L434.40,55.24 L434.80,53.17 L435.20,51.29 L435.60,49.95 L436.00,48.98 L436.40,48.39 L436.80,48.37 L437.20,48.43 L437.60,48.53 L438.00,48.66 L438.40,48.79 L438.80,48.93 L439.20,49.06 L439.60,49.18 L440.00,49.31 L440.40,49.50 L440.80,49.76 L441.20,50.24 L441.60,52.21 L442.00,54.77 L442.40,57.21 L442.80,59.88 L443.20,62.65 L443.60,65.42 L444.00,68.19 L444.40,71.08 L444.80,74.00 L445.20,76.85 L445.60,79.55 L446.00,81.99 L446.40,84.22 L446.80,86.26 L447.20,88.00 L447.60,89.45 L448.00,90.73 L448.40,91.89 L448.80,93.00 L449.20,94.12 L449.60,95.30 L450.00,96.51 L450.40,97.71 L450.80,98.90 L451.20,100.10 L451.60,101.30 L452.00,102.44 L452.40,103.55 L452.80,104.64 L453.20,105.76 L453.60,106.94 L454.00,108.22 L454.40,109.62 L454.80,111.21 L455.20,113.03 L455.60,115.03 L456.00,117.18 L456.40,119.43 L456.80,121.87 L457.20,124.65 L457.60,127.46 L458.00,130.00 L458.40,132.19 L458.80,134.21 L459.20,136.13 L459.60,138.00 L460.00,139.86 L460.40,141.68 L460.80,143.41 L461.20,145.00 L461.60,146.44 L462.00,147.76 L462.40,149.00 L462.80,150.21 L463.20,151.42 L463.60,152.59 L464.00,153.69 L464.40,154.71 L464.80,155.60 L465.20,156.37 L465.60,157.08 L466.00,157.73 L466.40,158.34 L466.80,158.91 L467.20,159.42 L467.60,159.88 L468.00,160.30 L468.40,160.67 L468.80,161.00 L469.20,161.30 L469.60,161.58 L470.00,161.84 L470.40,162.10 L470.80,162.36 L471.20,162.62 L471.60,162.90 L472.00,163.20 L472.40,163.51 L472.80,163.81 L473.20,164.11 L473.60,164.43 L474.00,164.78 L474.40,165.17 L474.80,165.60 L475.20,166.15 L475.60,166.82 L476.00,167.53 L476.40,168.20 L476.80,168.82 L477.20,169.41 L477.60,170.00 L478.00,170.59 L478.40,171.17 L478.80,171.76 L479.20,172.37 L479.60,173.00 L480.00,173.65 L480.40,174.31 L480.80,174.99 L481.20,175.68 L481.60,176.38 L482.00,177.09 L482.40,177.80 L482.80,178.52 L483.20,179.24 L483.60,179.96 L484.00,180.68 L484.40,181.40 L484.80,182.11 L485.20,182.81 L485.60,183.51 L486.00,184.20 L486.40,184.89 L486.80,185.60 L487.20,186.32 L487.60,187.04 L488.00,187.76 L488.40,188.47 L488.80,189.17 L489.20,189.84 L489.60,190.49 L490.00,191.10 L490.40,191.67 L490.80,192.20 L491.20,192.70 L491.60,193.20 L492.00,193.70 L492.40,194.18 L492.80,194.65 L493.20,195.10 L493.60,195.51 L494.00,195.90 L494.40,196.25 L494.80,196.55 L495.20,196.80 L495.60,197.00 L496.00,197.16 L496.40,197.29 L496.80,197.40 L497.20,197.50 L497.60,197.60 L498.00,197.69 L498.40,197.79 L498.80,197.90 L499.20,198.03 L499.60,198.18 L500.00,198.34 L500.40,198.50 L500.80,198.66 L501.20,198.81 L501.60,198.95 L502.00,199.06 L502.40,199.15 L502.80,199.19 L503.20,199.20 L503.60,199.21 L504.00,199.21 L504.40,199.21 L504.80,199.22 L505.20,199.22 L505.60,199.22 L506.00,199.22 L506.40,199.23 L506.80,199.23 L507.20,199.23 L507.60,199.24 L508.00,199.24 L508.40,199.24 L508.80,199.24 L509.20,199.25 L509.60,199.25 L510.00,199.25 L510.40,199.25 L510.80,199.25 L511.20,199.26 L511.60,199.26 L512.00,199.26 L512.40,199.26 L512.80,199.26 L513.20,199.27 L513.60,199.27 L514.00,199.27 L514.40,199.27 L514.80,199.27 L515.20,199.27 L515.60,199.28 L516.00,199.28 L516.40,199.28 L516.80,199.28 L517.20,199.28 L517.60,199.28 L518.00,199.28 L518.40,199.28 L518.80,199.29 L519.20,199.29 L519.60,199.29 L520.00,199.29 L520.40,199.29 L520.80,199.29 L521.20,199.29 L521.60,199.29 L522.00,199.29 L522.40,199.29 L522.80,199.29 L523.20,199.29 L523.60,199.29 L524.00,199.30 L524.40,199.30 L524.80,199.30 L525.20,199.30 L525.60,199.30 L526.00,199.30 L526.40,199.30 L526.80,199.30 L527.20,199.30 L527.60,199.30 L528.00,199.30 L528.40,199.30 L528.80,199.30 L529.20,199.30 L529.60,199.30 L530.00,199.30 L530.40,199.30 L530.80,199.30 L531.20,199.30 L531.60,199.30 L532.00,199.30 L532.40,199.30" stroke="#ff9933"/>
<path d="M330.00,199.50 L330.40,199.50 L330.80,199.50 L331.20,199.50 L331.60,199.50 L332.00,199.50 L332.40,199.50 L332.80,199.50 L333.20,199.50 L333.60,199.50 L334.00,199.50 L334.40,199.50 L334.80,199.50 L335.20,199.50 L335.60,199.50 L336.00,199.50 L336.40,199.50 L336.80,199.50 L337.20,199.50 L337.60,199.50 L338.00,199.50 L338.40,199.50 L338.80,199.50 L339.20,199.50 L339.60,199.49 L340.00,199.49 L340.40,199.49 L340.80,199.49 L341.20,199.49 L341.60,199.49 L342.00,199.49 L342.40,199.49 L342.80,199.49 L343.20,199.49 L343.60,199.49 L344.00,199.49 L344.40,199.49 L344.80,199.49 L345.20,199.49 L345.60,199.48 L346.00,199.48 L346.40,199.48 L346.80,199.48 L347.20,199.48 L347.60,199.48 L348.00,199.48 L348.40,199.48 L348.80,199.48 L349.20,199.48 L349.60,199.47 L350.00,199.47 L350.40,199.47 L350.80,199.47 L351.20,199.47 L351.60,199.47 L352.00,199.47 L352.40,199.47 L352.80,199.46 L353.20,199.46 L353.60,199.46 L354.00,199.46 L354.40,199.46 L354.80,199.46 L355.20,199.46 L355.60,199.45 L356.00,199.45 L356.40,199.45 L356.80,199.45 L357.20,199.45 L357.60,199.45 L358.00,199.44 L358.40,199.44 L358.80,199.44 L359.20,199.44 L359.60,199.44 L360.00,199.43 L360.40,199.43 L360.80,199.42 L361.20,199.41 L361.60,199.40 L362.00,199.40 L362.40,199.39 L362.80,199.38 L363.20,199.36 L363.60,199.35 L364.00,199.34 L364.40,199.33 L364.80,199.31 L365.20,199.30 L365.60,199.28 L366.00,199.27 L366.40,199.25 L366.80,199.24 L367.20,199.22 L367.60,199.20 L368.00,199.19 L368.40,199.17 L368.80,199.15 L369.20,199.13 L369.60,199.12 L370.00,199.10 L370.40,199.08 L370.80,199.07 L371.20,199.05 L371.60,199.03 L372.00,199.01 L372.40,199.00 L372.80,198.98 L373.20,198.96 L373.60,198.94 L374.00,198.92 L374.40,198.90 L374.80,198.88 L375.20,198.86 L375.60,198.83 L376.00,198.81 L376.40,198.78 L376.80,198.75 L377.20,198.73 L377.60,198.69 L378.00,198.66 L378.40,198.63 L378.80,198.59 L379.20,198.55 L379.60,198.51 L380.00,198.47 L380.40,198.42 L380.80,198.35 L381.20,198.28 L381.60,198.19 L382.00,198.08 L382.40,197.98 L382.80,197.86 L383.20,197.73 L383.60,197.60 L384.00,197.46 L384.40,197.32 L384.80,197.18 L385.20,197.04 L385.60,196.89 L386.00,196.75 L386.40,196.60 L386.80,196.46 L387.20,196.32 L387.60,196.19 L388.00,196.05 L388.40,195.90 L388.80,195.76 L389.20,195.61 L389.60,195.46 L390.00,195.31 L390.40,195.15 L390.80,194.99 L391.20,194.81 L391.60,194.64 L392.00,194.45 L392.40,194.26 L392.80,194.06 L393.20,193.85 L393.60,193.63 L394.00,193.40 L394.40,193.15 L394.80,192.89 L395.20,192.61 L395.60,192.32 L396.00,192.01 L396.40,191.68 L396.80,191.34 L397.20,190.99 L397.60,190.61 L398.00,190.22 L398.40,189.82 L398.80,189.39 L399.20,188.95 L399.60,188.49 L400.00,187.98 L400.40,187.45 L400.80,186.88 L401.20,186.26 L401.60,185.61 L402.00,184.91 L402.40,184.16 L402.80,183.36 L403.20,182.50 L403.60,181.46 L404.00,180.25 L404.40,178.92 L404.80,177.55 L405.20,176.20 L405.60,174.89 L406.00,173.59 L406.40,172.24 L406.80,170.84 L407.20,169.34 L407.60,167.77 L408.00,166.14 L408.40,164.45 L408.80,162.71 L409.20,160.94 L409.60,159.12 L410.00,157.28 L410.40,155.41 L410.80,153.53 L411.20,151.63 L411.60,149.73 L412.00,147.84 L412.40,145.95 L412.80,144.07 L413.20,142.22 L413.60,140.39 L414.00,138.50 L414.40,136.42 L414.80,134.25 L415.20,132.10 L415.60,130.06 L416.00,128.25 L416.40,126.77 L416.80,125.72 L417.20,125.06 L417.60,124.49 L418.00,124.01 L418.40,123.58 L418.80,123.21 L419.20,122.87 L419.60,122.55 L420.00,122.24 L420.40,121.93 L420.80,121.59 L421.20,121.21 L421.60,120.79 L422.00,120.37 L422.40,119.96 L422.80,119.56 L423.20,119.15 L423.60,118.73 L424.00,118.28 L424.40,117.79 L424.80,117.26 L425.20,116.68 L425.60,116.03 L426.00,115.28 L426.40,114.42 L426.80,113.44 L427.20,112.35 L427.60,111.17 L428.00,109.88 L428.40,108.51 L428.80,107.06 L429.20,105.52 L429.60,103.92 L430.00,102.24 L430.40,100.51 L430.80,98.73 L431.20,96.89 L431.60,95.01 L432.00,93.02 L432.40,90.55 L432.80,87.84 L433.20,85.24 L433.60,82.94 L434.00,80.43 L434.40,77.94 L434.80,75.78 L435.20,74.27 L435.60,73.75 L436.00,73.94 L436.40,74.39 L436.80,74.96 L437.20,75.54 L437.60,75.98 L438.00,76.16 L438.40,76.05 L438.80,75.75 L439.20,75.37 L439.60,75.02 L440.00,74.79 L440.40,74.90 L440.80,76.04 L441.20,77.91 L441.60,80.04 L442.00,81.98 L442.40,83.57 L442.80,85.31 L443.20,87.80 L443.60,91.33 L444.00,95.10 L444.40,98.23 L444.80,100.36 L445.20,102.28 L445.60,104.02 L446.00,105.60 L446.40,107.00 L446.80,108.24 L447.20,109.31 L447.60,110.21 L448.00,110.98 L448.40,111.64 L448.80,112.23 L449.20,112.75 L449.60,113.23 L450.00,113.70 L450.40,114.17 L450.80,114.66 L451.20,115.20 L451.60,115.81 L452.00,116.50 L452.40,117.28 L452.80,118.13 L453.20,119.05 L453.60,120.03 L454.00,121.08 L454.40,122.20 L454.80,123.38 L455.20,124.66 L455.60,126.14 L456.00,127.78 L456.40,129.49 L456.80,131.18 L457.20,132.80 L457.60,134.40 L458.00,136.00 L458.40,137.60 L458.80,139.20 L459.20,140.79 L459.60,142.34 L460.00,143.88 L460.40,145.46 L460.80,147.13 L461.20,148.95 L461.60,151.11 L462.00,153.31 L462.40,155.24 L462.80,156.64 L463.20,157.75 L463.60,158.71 L464.00,159.60 L464.40,160.50 L464.80,161.45 L465.20,162.41 L465.60,163.33 L466.00,164.14 L466.40,164.80 L466.80,165.33 L467.20,165.80 L467.60,166.23 L468.00,166.62 L468.40,166.98 L468.80,167.33 L469.20,167.66 L469.60,168.00 L470.00,168.33 L470.40,168.65 L470.80,168.95 L471.20,169.24 L471.60,169.52 L472.00,169.79 L472.40,170.06 L472.80,170.33 L473.20,170.61 L473.60,170.89 L474.00,171.18 L474.40,171.48 L474.80,171.80 L475.20,172.13 L475.60,172.46 L476.00,172.79 L476.40,173.13 L476.80,173.48 L477.20,173.84 L477.60,174.20 L478.00,174.58 L478.40,174.96 L478.80,175.36 L479.20,175.77 L479.60,176.20 L480.00,176.65 L480.40,177.13 L480.80,177.63 L481.20,178.16 L481.60,178.70 L482.00,179.25 L482.40,179.81 L482.80,180.38 L483.20,180.94 L483.60,181.51 L484.00,182.06 L484.40,182.60 L484.80,183.14 L485.20,183.68 L485.60,184.22 L486.00,184.76 L486.40,185.31 L486.80,185.85 L487.20,186.39 L487.60,186.93 L488.00,187.46 L488.40,187.98 L488.80,188.50 L489.20,189.00 L489.60,189.50 L490.00,190.01 L490.40,190.52 L490.80,191.04 L491.20,191.54 L491.60,192.04 L492.00,192.52 L492.40,192.99 L492.80,193.43 L493.20,193.85 L493.60,194.24 L494.00,194.60 L494.40,194.94 L494.80,195.27 L495.20,195.59 L495.60,195.91 L496.00,196.21 L496.40,196.50 L496.80,196.77 L497.20,197.03 L497.60,197.26 L498.00,197.46 L498.40,197.65 L498.80,197.80 L499.20,197.94 L499.60,198.08 L500.00,198.21 L500.40,198.33 L500.80,198.45 L501.20,198.55 L501.60,198.64 L502.00,198.71 L502.40,198.77 L502.80,198.79 L503.20,198.80 L503.60,198.81 L504.00,198.81 L504.40,198.81 L504.80,198.82 L505.20,198.82 L505.60,198.82 L506.00,198.82 L506.40,198.83 L506.80,198.83 L507.20,198.83 L507.60,198.84 L508.00,198.84 L508.40,198.84 L508.80,198.84 L509.20,198.85 L509.60,198.85 L510.00,198.85 L510.40,198.85 L510.80,198.85 L511.20,198.86 L511.60,198.86 L512.00,198.86 L512.40,198.86 L512.80,198.86 L513.20,198.87 L513.60,198.87 L514.00,198.87 L514.40,198.87 L514.80,198.87 L515.20,198.87 L515.60,198.88 L516.00,198.88 L516.40,198.88 L516.80,198.88 L517.20,198.88 L517.60,198.88 L518.00,198.88 L518.40,198.88 L518.80,198.89 L519.20,198.89 L519.60,198.89 L520.00,198.89 L520.40,198.89 L520.80,198.89 L521.20,198.89 L521.60,198.89 L522.00,198.89 L522.40,198.89 L522.80,198.89 L523.20,198.89 L523.60,198.89 L524.00,198.90 L524.40,198.90 L524.80,198.90 L525.20,198.90 L525.60,198.90 L526.00,198.90 L526.40,198.90 L526.80,198.90 L527.20,198.90 L527.60,198.90 L528.00,198.90 L528.40,198.90 L528.80,198.90 L529.20,198.90 L529.60,198.90 L530.00,198.90 L530.40,198.90 L530.80,198.90 L531.20,198.90 L531.60,198.90 L532.00,198.90 L532.40,198.90" stroke="#b02222"/>
</g>
<path d="M58.70,30 V202.70" stroke="#2a2a2a" stroke-width="1.4"/>
<path d="M261.60,30 V202.70" stroke="#5a5a5a" stroke-width="1.7"/>
<path d="M58.00,30.6 H262.40 M58.00,202.10 H262.40" stroke="#111" stroke-width="1.25"/>
<g class="cv">
<path d="M58.70,201.20 L59.10,201.20 L59.50,201.20 L59.90,201.20 L60.30,201.20 L60.70,201.20 L61.10,201.20 L61.50,201.20 L61.90,201.20 L62.30,201.20 L62.70,201.20 L63.10,201.20 L63.50,201.20 L63.90,201.20 L64.30,201.20 L64.70,201.20 L65.10,201.20 L65.50,201.20 L65.90,201.20 L66.30,201.20 L66.70,201.20 L67.10,201.20 L67.50,201.20 L67.90,201.20 L68.30,201.20 L68.70,201.20 L69.10,201.20 L69.50,201.20 L69.90,201.20 L70.30,201.20 L70.70,201.06 L71.10,200.45 L71.50,199.77 L71.90,198.99 L72.30,198.17 L72.70,197.39 L73.10,196.59 L73.50,195.68 L73.90,194.78 L74.30,194.08 L74.70,193.72 L75.10,193.75 L75.50,193.94 L75.90,194.20 L76.30,194.48 L76.70,194.71 L77.10,194.96 L77.50,195.22 L77.90,195.48 L78.30,195.74 L78.70,195.98 L79.10,196.21 L79.50,196.40 L79.90,196.57 L80.30,196.72 L80.70,196.85 L81.10,196.98 L81.50,197.10 L81.90,197.23 L82.30,197.35 L82.70,197.49 L83.10,197.64 L83.50,197.82 L83.90,198.04 L84.30,198.26 L84.70,198.48 L85.10,198.68 L85.50,198.85 L85.90,198.96 L86.30,199.00 L86.70,198.91 L87.10,198.65 L87.50,198.27 L87.90,197.80 L88.30,197.27 L88.70,196.65 L89.10,195.64 L89.50,194.46 L89.90,193.41 L90.30,192.60 L90.70,191.78 L91.10,191.08 L91.50,190.66 L91.90,190.63 L92.30,190.86 L92.70,191.21 L93.10,191.61 L93.50,192.25 L93.90,193.07 L94.30,193.84 L94.70,194.33 L95.10,194.37 L95.50,194.19 L95.90,193.88 L96.30,193.53 L96.70,193.19 L97.10,192.95 L97.50,192.73 L97.90,192.50 L98.30,192.27 L98.70,192.05 L99.10,191.85 L99.50,191.68 L99.90,191.54 L100.30,191.45 L100.70,191.40 L101.10,191.48 L101.50,191.78 L101.90,192.22 L102.30,192.74 L102.70,193.29 L103.10,194.01 L103.50,194.87 L103.90,195.77 L104.30,196.62 L104.70,197.36 L105.10,198.10 L105.50,198.81 L105.90,199.46 L106.30,199.99 L106.70,200.39 L107.10,200.75 L107.50,201.04 L107.90,201.19 L108.30,201.20 L108.70,201.20 L109.10,201.20 L109.50,201.20 L109.90,201.20 L110.30,201.20 L110.70,201.20 L111.10,201.20 L111.50,201.20 L111.90,201.20 L112.30,201.20 L112.70,201.20 L113.10,201.20 L113.50,201.20 L113.90,201.20 L114.30,201.20 L114.70,201.20 L115.10,201.20 L115.50,201.20 L115.90,201.20 L116.30,201.20 L116.70,201.20 L117.10,201.20 L117.50,201.20 L117.90,201.20 L118.30,201.20 L118.70,201.20 L119.10,201.20 L119.50,201.20 L119.90,201.20 L120.30,201.20 L120.70,201.20 L121.10,201.20 L121.50,201.20 L121.90,201.20 L122.30,201.20 L122.70,201.20 L123.10,201.20 L123.50,201.20 L123.90,201.20 L124.30,201.20 L124.70,201.20 L125.10,201.20 L125.50,201.20 L125.90,201.20 L126.30,201.20 L126.70,201.20 L127.10,201.20 L127.50,201.20 L127.90,201.20 L128.30,201.20 L128.70,201.20 L129.10,201.20 L129.50,201.20 L129.90,201.20 L130.30,201.20 L130.70,201.20 L131.10,201.20 L131.50,201.20 L131.90,201.20 L132.30,201.20 L132.70,201.20 L133.10,201.20 L133.50,201.20 L133.90,201.20 L134.30,201.20 L134.70,201.20 L135.10,201.20 L135.50,201.20 L135.90,201.20 L136.30,201.20 L136.70,201.20 L137.10,201.20 L137.50,201.20 L137.90,201.20 L138.30,201.20 L138.70,201.20 L139.10,201.20 L139.50,201.20 L139.90,201.20 L140.30,201.20 L140.70,201.20 L141.10,201.20 L141.50,201.20 L141.90,201.20 L142.30,201.20 L142.70,201.20 L143.10,201.20 L143.50,201.20 L143.90,201.20 L144.30,201.20 L144.70,201.20 L145.10,201.20 L145.50,201.20 L145.90,201.20 L146.30,201.20 L146.70,201.20 L147.10,201.20 L147.50,201.20 L147.90,201.20 L148.30,201.20 L148.70,201.20 L149.10,201.20 L149.50,201.20 L149.90,201.20 L150.30,201.20 L150.70,201.20 L151.10,201.20 L151.50,201.20 L151.90,201.20 L152.30,201.20 L152.70,201.20 L153.10,201.20 L153.50,201.20 L153.90,201.20 L154.30,201.20 L154.70,201.20 L155.10,201.20 L155.50,201.20 L155.90,201.20 L156.30,201.20 L156.70,201.20 L157.10,201.20 L157.50,201.20 L157.90,201.20 L158.30,201.20 L158.70,201.20 L159.10,201.20 L159.50,201.20 L159.90,201.20 L160.30,201.20 L160.70,201.20 L161.10,201.20 L161.50,201.20 L161.90,201.20 L162.30,201.20 L162.70,201.20 L163.10,201.20 L163.50,201.20 L163.90,201.20 L164.30,201.20 L164.70,201.20 L165.10,201.20 L165.50,201.20 L165.90,201.20 L166.30,201.20 L166.70,201.18 L167.10,201.16 L167.50,201.12 L167.90,201.07 L168.30,201.01 L168.70,200.94 L169.10,200.86 L169.50,200.77 L169.90,200.67 L170.30,200.42 L170.70,200.02 L171.10,199.48 L171.50,198.85 L171.90,198.15 L172.30,197.41 L172.70,196.62 L173.10,195.68 L173.50,194.49 L173.90,192.94 L174.30,190.83 L174.70,185.93 L175.10,179.71 L175.50,174.63 L175.90,170.07 L176.30,165.94 L176.70,162.42 L177.10,159.31 L177.50,156.21 L177.90,153.07 L178.30,150.00 L178.70,147.01 L179.10,144.09 L179.50,141.32 L179.90,138.69 L180.30,136.19 L180.70,133.82 L181.10,131.48 L181.50,129.34 L181.90,127.59 L182.30,125.90 L182.70,124.38 L183.10,123.44 L183.50,123.49 L183.90,124.80 L184.30,126.94 L184.70,129.40 L185.10,132.42 L185.50,137.00 L185.90,142.01 L186.30,146.25 L186.70,148.49 L187.10,148.23 L187.50,146.86 L187.90,145.00 L188.30,143.20 L188.70,141.86 L189.10,140.47 L189.50,139.16 L189.90,138.18 L190.30,137.80 L190.70,138.07 L191.10,138.75 L191.50,139.70 L191.90,140.74 L192.30,141.85 L192.70,143.26 L193.10,145.00 L193.50,147.19 L193.90,149.93 L194.30,153.19 L194.70,157.22 L195.10,162.97 L195.50,168.66 L195.90,172.49 L196.30,175.42 L196.70,177.92 L197.10,180.19 L197.50,182.43 L197.90,184.83 L198.30,187.37 L198.70,189.86 L199.10,192.07 L199.50,193.80 L199.90,195.19 L200.30,196.50 L200.70,197.68 L201.10,198.70 L201.50,199.53 L201.90,200.11 L202.30,200.45 L202.70,200.73 L203.10,200.96 L203.50,201.12 L203.90,201.20 L204.30,201.20 L204.70,201.20 L205.10,201.20 L205.50,201.20 L205.90,201.20 L206.30,201.20 L206.70,201.20 L207.10,201.20 L207.50,201.20 L207.90,201.20 L208.30,201.20 L208.70,201.20 L209.10,201.20 L209.50,201.20 L209.90,201.20 L210.30,201.20 L210.70,201.20 L211.10,201.20 L211.50,201.20 L211.90,201.20 L212.30,201.20 L212.70,201.20 L213.10,201.20 L213.50,201.20 L213.90,201.20 L214.30,201.20 L214.70,201.20 L215.10,201.20 L215.50,201.20 L215.90,201.20 L216.30,201.20 L216.70,201.20 L217.10,201.20 L217.50,201.20 L217.90,201.20 L218.30,201.20 L218.70,201.20 L219.10,201.20 L219.50,201.20 L219.90,201.20 L220.30,201.20 L220.70,201.20 L221.10,201.20 L221.50,201.20 L221.90,201.20 L222.30,201.20 L222.70,201.20 L223.10,201.20 L223.50,201.20 L223.90,201.20 L224.30,201.20 L224.70,201.20 L225.10,201.20 L225.50,201.20 L225.90,201.20 L226.30,201.20 L226.70,201.20 L227.10,201.20 L227.50,201.20 L227.90,201.20 L228.30,201.20 L228.70,201.20 L229.10,201.20 L229.50,201.20 L229.90,201.20 L230.30,201.20 L230.70,201.20 L231.10,201.20 L231.50,201.20 L231.90,201.20 L232.30,201.20 L232.70,201.20 L233.10,201.20 L233.50,201.20 L233.90,201.20 L234.30,201.20 L234.70,201.20 L235.10,201.20 L235.50,201.20 L235.90,201.20 L236.30,201.20 L236.70,201.20 L237.10,201.20 L237.50,201.20 L237.90,201.20 L238.30,201.20 L238.70,201.20 L239.10,201.20 L239.50,201.20 L239.90,201.20 L240.30,201.20 L240.70,201.20 L241.10,201.20 L241.50,201.20 L241.90,201.20 L242.30,201.20 L242.70,201.20 L243.10,201.20 L243.50,201.20 L243.90,201.20 L244.30,201.20 L244.70,201.20 L245.10,201.20 L245.50,201.20 L245.90,201.20 L246.30,201.20 L246.70,201.20 L247.10,201.20 L247.50,201.20 L247.90,201.20 L248.30,201.20 L248.70,201.20 L249.10,201.20 L249.50,201.20 L249.90,201.20 L250.30,201.20 L250.70,201.20 L251.10,201.20 L251.50,201.20 L251.90,201.20 L252.30,201.20 L252.70,201.20 L253.10,201.20 L253.50,201.20 L253.90,201.20 L254.30,201.20 L254.70,201.20 L255.10,201.20 L255.50,201.20 L255.90,201.20 L256.30,201.20 L256.70,201.20 L257.10,201.20 L257.50,201.20 L257.90,201.20 L258.30,201.20 L258.70,201.20 L259.10,201.20 L259.50,201.20 L259.90,201.20 L260.30,201.20 L260.70,201.20 L261.10,201.20 L261.50,201.20" stroke="#a2ee30"/>
<path d="M58.70,201.20 L59.10,201.20 L59.50,201.20 L59.90,201.20 L60.30,201.20 L60.70,201.20 L61.10,201.20 L61.50,201.20 L61.90,201.20 L62.30,201.20 L62.70,201.20 L63.10,201.20 L63.50,201.20 L63.90,201.20 L64.30,201.20 L64.70,201.20 L65.10,201.20 L65.50,201.20 L65.90,201.20 L66.30,201.20 L66.70,201.20 L67.10,201.20 L67.50,201.20 L67.90,201.20 L68.30,201.20 L68.70,201.20 L69.10,201.20 L69.50,201.20 L69.90,201.18 L70.30,200.88 L70.70,200.41 L71.10,199.98 L71.50,199.52 L71.90,199.02 L72.30,198.50 L72.70,197.94 L73.10,197.35 L73.50,196.64 L73.90,195.83 L74.30,194.99 L74.70,194.19 L75.10,193.51 L75.50,193.00 L75.90,192.60 L76.30,192.23 L76.70,191.95 L77.10,191.81 L77.50,191.88 L77.90,192.20 L78.30,192.67 L78.70,193.17 L79.10,193.60 L79.50,194.04 L79.90,194.51 L80.30,194.99 L80.70,195.46 L81.10,195.89 L81.50,196.25 L81.90,196.53 L82.30,196.76 L82.70,196.96 L83.10,197.15 L83.50,197.34 L83.90,197.54 L84.30,197.80 L84.70,198.13 L85.10,198.47 L85.50,198.79 L85.90,199.01 L86.30,199.10 L86.70,199.02 L87.10,198.80 L87.50,198.48 L87.90,198.10 L88.30,197.58 L88.70,196.74 L89.10,195.70 L89.50,194.64 L89.90,193.70 L90.30,192.91 L90.70,192.07 L91.10,191.23 L91.50,190.42 L91.90,189.70 L92.30,189.12 L92.70,188.74 L93.10,188.60 L93.50,188.83 L93.90,189.41 L94.30,190.14 L94.70,190.95 L95.10,192.17 L95.50,193.27 L95.90,193.59 L96.30,193.36 L96.70,192.91 L97.10,192.32 L97.50,191.70 L97.90,191.12 L98.30,190.62 L98.70,190.06 L99.10,189.51 L99.50,189.02 L99.90,188.66 L100.30,188.43 L100.70,188.23 L101.10,188.05 L101.50,187.91 L101.90,187.82 L102.30,187.82 L102.70,188.27 L103.10,189.10 L103.50,190.00 L103.90,191.02 L104.30,192.29 L104.70,193.65 L105.10,194.94 L105.50,196.00 L105.90,196.88 L106.30,197.70 L106.70,198.45 L107.10,199.09 L107.50,199.60 L107.90,200.05 L108.30,200.48 L108.70,200.85 L109.10,201.10 L109.50,201.20 L109.90,201.20 L110.30,201.20 L110.70,201.20 L111.10,201.20 L111.50,201.20 L111.90,201.20 L112.30,201.20 L112.70,201.20 L113.10,201.20 L113.50,201.20 L113.90,201.20 L114.30,201.20 L114.70,201.20 L115.10,201.20 L115.50,201.20 L115.90,201.20 L116.30,201.20 L116.70,201.20 L117.10,201.20 L117.50,201.20 L117.90,201.20 L118.30,201.20 L118.70,201.20 L119.10,201.20 L119.50,201.20 L119.90,201.20 L120.30,201.20 L120.70,201.20 L121.10,201.20 L121.50,201.20 L121.90,201.20 L122.30,201.20 L122.70,201.20 L123.10,201.20 L123.50,201.20 L123.90,201.20 L124.30,201.20 L124.70,201.20 L125.10,201.20 L125.50,201.20 L125.90,201.20 L126.30,201.20 L126.70,201.20 L127.10,201.20 L127.50,201.20 L127.90,201.20 L128.30,201.20 L128.70,201.20 L129.10,201.20 L129.50,201.20 L129.90,201.20 L130.30,201.20 L130.70,201.20 L131.10,201.20 L131.50,201.20 L131.90,201.20 L132.30,201.20 L132.70,201.20 L133.10,201.20 L133.50,201.20 L133.90,201.20 L134.30,201.20 L134.70,201.20 L135.10,201.20 L135.50,201.20 L135.90,201.20 L136.30,201.20 L136.70,201.20 L137.10,201.20 L137.50,201.20 L137.90,201.20 L138.30,201.20 L138.70,201.20 L139.10,201.20 L139.50,201.20 L139.90,201.20 L140.30,201.20 L140.70,201.20 L141.10,201.20 L141.50,201.20 L141.90,201.20 L142.30,201.20 L142.70,201.20 L143.10,201.20 L143.50,201.20 L143.90,201.20 L144.30,201.20 L144.70,201.20 L145.10,201.20 L145.50,201.20 L145.90,201.20 L146.30,201.20 L146.70,201.20 L147.10,201.20 L147.50,201.20 L147.90,201.20 L148.30,201.20 L148.70,201.20 L149.10,201.20 L149.50,201.20 L149.90,201.20 L150.30,201.20 L150.70,201.20 L151.10,201.20 L151.50,201.20 L151.90,201.20 L152.30,201.20 L152.70,201.20 L153.10,201.20 L153.50,201.20 L153.90,201.20 L154.30,201.20 L154.70,201.20 L155.10,201.20 L155.50,201.20 L155.90,201.20 L156.30,201.20 L156.70,201.20 L157.10,201.20 L157.50,201.20 L157.90,201.20 L158.30,201.20 L158.70,201.20 L159.10,201.20 L159.50,201.20 L159.90,201.20 L160.30,201.20 L160.70,201.20 L161.10,201.20 L161.50,201.20 L161.90,201.20 L162.30,201.20 L162.70,201.20 L163.10,201.20 L163.50,201.20 L163.90,201.20 L164.30,201.20 L164.70,201.20 L165.10,201.20 L165.50,201.20 L165.90,201.20 L166.30,201.20 L166.70,201.20 L167.10,201.20 L167.50,201.19 L167.90,201.16 L168.30,201.11 L168.70,201.05 L169.10,200.97 L169.50,200.88 L169.90,200.78 L170.30,200.66 L170.70,200.52 L171.10,200.26 L171.50,199.88 L171.90,199.39 L172.30,198.80 L172.70,198.14 L173.10,197.40 L173.50,196.39 L173.90,195.06 L174.30,193.44 L174.70,191.56 L175.10,189.44 L175.50,186.75 L175.90,183.37 L176.30,179.38 L176.70,174.76 L177.10,168.67 L177.50,160.69 L177.90,150.00 L178.30,142.21 L178.70,135.26 L179.10,128.44 L179.50,122.71 L179.90,118.01 L180.30,113.91 L180.70,110.17 L181.10,106.77 L181.50,103.71 L181.90,100.84 L182.30,98.14 L182.70,96.30 L183.10,95.20 L183.50,94.41 L183.90,94.23 L184.30,94.83 L184.70,96.04 L185.10,97.63 L185.50,99.64 L185.90,103.18 L186.30,107.65 L186.70,112.15 L187.10,115.85 L187.50,119.60 L187.90,123.28 L188.30,126.09 L188.70,127.20 L189.10,126.09 L189.50,123.60 L189.90,121.00 L190.30,118.24 L190.70,115.01 L191.10,112.19 L191.50,110.67 L191.90,111.00 L192.30,112.48 L192.70,114.50 L193.10,116.47 L193.50,118.50 L193.90,120.72 L194.30,123.16 L194.70,125.82 L195.10,128.70 L195.50,131.80 L195.90,135.31 L196.30,139.43 L196.70,144.37 L197.10,151.21 L197.50,158.42 L197.90,164.46 L198.30,170.09 L198.70,174.95 L199.10,178.94 L199.50,182.50 L199.90,185.56 L200.30,188.00 L200.70,189.95 L201.10,191.65 L201.50,193.08 L201.90,194.25 L202.30,195.20 L202.70,196.03 L203.10,196.77 L203.50,197.43 L203.90,198.01 L204.30,198.55 L204.70,199.05 L205.10,199.58 L205.50,200.09 L205.90,200.55 L206.30,200.91 L206.70,201.14 L207.10,201.20 L207.50,201.20 L207.90,201.20 L208.30,201.20 L208.70,201.20 L209.10,201.20 L209.50,201.20 L209.90,201.20 L210.30,201.20 L210.70,201.20 L211.10,201.20 L211.50,201.20 L211.90,201.20 L212.30,201.20 L212.70,201.20 L213.10,201.20 L213.50,201.20 L213.90,201.20 L214.30,201.20 L214.70,201.20 L215.10,201.20 L215.50,201.20 L215.90,201.20 L216.30,201.20 L216.70,201.20 L217.10,201.20 L217.50,201.20 L217.90,201.20 L218.30,201.20 L218.70,201.20 L219.10,201.20 L219.50,201.20 L219.90,201.20 L220.30,201.20 L220.70,201.20 L221.10,201.20 L221.50,201.20 L221.90,201.20 L222.30,201.20 L222.70,201.20 L223.10,201.20 L223.50,201.20 L223.90,201.20 L224.30,201.20 L224.70,201.20 L225.10,201.20 L225.50,201.20 L225.90,201.20 L226.30,201.20 L226.70,201.20 L227.10,201.20 L227.50,201.20 L227.90,201.20 L228.30,201.20 L228.70,201.20 L229.10,201.20 L229.50,201.20 L229.90,201.20 L230.30,201.20 L230.70,201.20 L231.10,201.20 L231.50,201.20 L231.90,201.20 L232.30,201.20 L232.70,201.20 L233.10,201.20 L233.50,201.20 L233.90,201.20 L234.30,201.20 L234.70,201.20 L235.10,201.20 L235.50,201.20 L235.90,201.20 L236.30,201.20 L236.70,201.20 L237.10,201.20 L237.50,201.20 L237.90,201.20 L238.30,201.20 L238.70,201.20 L239.10,201.20 L239.50,201.20 L239.90,201.20 L240.30,201.20 L240.70,201.20 L241.10,201.20 L241.50,201.20 L241.90,201.20 L242.30,201.20 L242.70,201.20 L243.10,201.20 L243.50,201.20 L243.90,201.20 L244.30,201.20 L244.70,201.20 L245.10,201.20 L245.50,201.20 L245.90,201.20 L246.30,201.20 L246.70,201.20 L247.10,201.20 L247.50,201.20 L247.90,201.20 L248.30,201.20 L248.70,201.20 L249.10,201.20 L249.50,201.20 L249.90,201.20 L250.30,201.20 L250.70,201.20 L251.10,201.20 L251.50,201.20 L251.90,201.20 L252.30,201.20 L252.70,201.20 L253.10,201.20 L253.50,201.20 L253.90,201.20 L254.30,201.20 L254.70,201.20 L255.10,201.20 L255.50,201.20 L255.90,201.20 L256.30,201.20 L256.70,201.20 L257.10,201.20 L257.50,201.20 L257.90,201.20 L258.30,201.20 L258.70,201.20 L259.10,201.20 L259.50,201.20 L259.90,201.20 L260.30,201.20 L260.70,201.20 L261.10,201.20 L261.50,201.20" stroke="#b02222"/>
<path d="M58.70,201.20 L59.10,201.20 L59.50,201.20 L59.90,201.20 L60.30,201.20 L60.70,201.20 L61.10,201.20 L61.50,201.20 L61.90,201.20 L62.30,201.20 L62.70,201.20 L63.10,201.20 L63.50,201.20 L63.90,201.20 L64.30,201.20 L64.70,201.20 L65.10,201.20 L65.50,201.20 L65.90,201.20 L66.30,201.20 L66.70,201.20 L67.10,201.20 L67.50,201.20 L67.90,201.20 L68.30,201.20 L68.70,201.15 L69.10,200.81 L69.50,200.29 L69.90,199.67 L70.30,198.77 L70.70,197.62 L71.10,196.29 L71.50,194.85 L71.90,193.37 L72.30,191.79 L72.70,189.89 L73.10,187.85 L73.50,185.85 L73.90,184.07 L74.30,182.68 L74.70,181.35 L75.10,180.26 L75.50,179.80 L75.90,180.18 L76.30,181.10 L76.70,182.23 L77.10,183.55 L77.50,185.42 L77.90,187.26 L78.30,188.47 L78.70,188.83 L79.10,189.05 L79.50,189.21 L79.90,189.36 L80.30,189.51 L80.70,189.63 L81.10,189.79 L81.50,190.11 L81.90,190.91 L82.30,192.04 L82.70,193.25 L83.10,194.29 L83.50,195.11 L83.90,195.96 L84.30,196.79 L84.70,197.50 L85.10,198.03 L85.50,198.29 L85.90,198.28 L86.30,198.20 L86.70,198.06 L87.10,197.86 L87.50,197.28 L87.90,195.83 L88.30,194.02 L88.70,191.47 L89.10,188.36 L89.50,185.19 L89.90,181.35 L90.30,177.96 L90.70,176.42 L91.10,175.54 L91.50,175.34 L91.90,176.13 L92.30,177.48 L92.70,178.83 L93.10,180.54 L93.50,182.53 L93.90,184.38 L94.30,185.66 L94.70,185.97 L95.10,185.28 L95.50,184.05 L95.90,182.75 L96.30,181.80 L96.70,180.97 L97.10,180.20 L97.50,179.66 L97.90,179.49 L98.30,179.47 L98.70,179.45 L99.10,179.43 L99.50,179.42 L99.90,179.41 L100.30,179.40 L100.70,179.40 L101.10,179.65 L101.50,180.59 L101.90,181.93 L102.30,183.38 L102.70,185.47 L103.10,188.02 L103.50,190.50 L103.90,192.42 L104.30,194.02 L104.70,195.48 L105.10,196.70 L105.50,197.60 L105.90,198.26 L106.30,198.84 L106.70,199.33 L107.10,199.75 L107.50,200.09 L107.90,200.36 L108.30,200.62 L108.70,200.86 L109.10,201.05 L109.50,201.17 L109.90,201.20 L110.30,201.20 L110.70,201.20 L111.10,201.20 L111.50,201.20 L111.90,201.20 L112.30,201.20 L112.70,201.20 L113.10,201.20 L113.50,201.20 L113.90,201.20 L114.30,201.20 L114.70,201.20 L115.10,201.20 L115.50,201.20 L115.90,201.20 L116.30,201.20 L116.70,201.20 L117.10,201.20 L117.50,201.20 L117.90,201.20 L118.30,201.20 L118.70,201.20 L119.10,201.20 L119.50,201.20 L119.90,201.20 L120.30,201.20 L120.70,201.20 L121.10,201.20 L121.50,201.20 L121.90,201.20 L122.30,201.20 L122.70,201.20 L123.10,201.20 L123.50,201.20 L123.90,201.20 L124.30,201.20 L124.70,201.20 L125.10,201.20 L125.50,201.20 L125.90,201.20 L126.30,201.20 L126.70,201.20 L127.10,201.20 L127.50,201.20 L127.90,201.20 L128.30,201.20 L128.70,201.20 L129.10,201.20 L129.50,201.20 L129.90,201.20 L130.30,201.20 L130.70,201.20 L131.10,201.20 L131.50,201.20 L131.90,201.20 L132.30,201.20 L132.70,201.20 L133.10,201.20 L133.50,201.20 L133.90,201.20 L134.30,201.20 L134.70,201.20 L135.10,201.20 L135.50,201.20 L135.90,201.20 L136.30,201.20 L136.70,201.20 L137.10,201.20 L137.50,201.20 L137.90,201.20 L138.30,201.20 L138.70,201.20 L139.10,201.20 L139.50,201.20 L139.90,201.20 L140.30,201.20 L140.70,201.20 L141.10,201.20 L141.50,201.20 L141.90,201.20 L142.30,201.20 L142.70,201.20 L143.10,201.20 L143.50,201.20 L143.90,201.20 L144.30,201.20 L144.70,201.20 L145.10,201.20 L145.50,201.20 L145.90,201.20 L146.30,201.20 L146.70,201.20 L147.10,201.20 L147.50,201.20 L147.90,201.20 L148.30,201.20 L148.70,201.20 L149.10,201.20 L149.50,201.20 L149.90,201.20 L150.30,201.20 L150.70,201.20 L151.10,201.20 L151.50,201.20 L151.90,201.20 L152.30,201.20 L152.70,201.20 L153.10,201.20 L153.50,201.20 L153.90,201.20 L154.30,201.20 L154.70,201.20 L155.10,201.20 L155.50,201.20 L155.90,201.20 L156.30,201.20 L156.70,201.20 L157.10,201.20 L157.50,201.20 L157.90,201.20 L158.30,201.20 L158.70,201.20 L159.10,201.20 L159.50,201.20 L159.90,201.20 L160.30,201.20 L160.70,201.20 L161.10,201.20 L161.50,201.20 L161.90,201.20 L162.30,201.20 L162.70,201.20 L163.10,201.20 L163.50,201.20 L163.90,201.20 L164.30,201.19 L164.70,201.15 L165.10,201.08 L165.50,200.99 L165.90,200.88 L166.30,200.76 L166.70,200.63 L167.10,200.44 L167.50,200.20 L167.90,199.92 L168.30,199.61 L168.70,199.27 L169.10,198.92 L169.50,198.55 L169.90,198.13 L170.30,197.67 L170.70,197.15 L171.10,196.58 L171.50,195.93 L171.90,195.21 L172.30,194.33 L172.70,193.26 L173.10,191.98 L173.50,190.45 L173.90,188.67 L174.30,186.40 L174.70,183.23 L175.10,178.45 L175.50,167.97 L175.90,155.37 L176.30,140.00 L176.70,117.61 L177.10,106.79 L177.50,102.69 L177.90,98.99 L178.30,95.18 L178.70,91.55 L179.10,87.90 L179.50,84.10 L179.90,80.00 L180.30,74.51 L180.70,68.49 L181.10,62.08 L181.50,56.88 L181.90,52.78 L182.30,50.00 L182.70,48.32 L183.10,47.12 L183.50,46.84 L183.90,47.78 L184.30,50.00 L184.70,61.77 L185.10,76.96 L185.50,84.72 L185.90,88.48 L186.30,91.15 L186.70,93.63 L187.10,94.80 L187.50,93.86 L187.90,92.00 L188.30,89.41 L188.70,86.15 L189.10,83.36 L189.50,80.58 L189.90,78.52 L190.30,78.29 L190.70,78.80 L191.10,80.21 L191.50,82.66 L191.90,85.37 L192.30,87.90 L192.70,90.59 L193.10,93.33 L193.50,96.00 L193.90,98.67 L194.30,101.33 L194.70,103.78 L195.10,105.99 L195.50,109.00 L195.90,115.37 L196.30,125.00 L196.70,133.65 L197.10,142.05 L197.50,150.03 L197.90,158.03 L198.30,165.60 L198.70,172.57 L199.10,178.97 L199.50,183.60 L199.90,186.47 L200.30,188.64 L200.70,190.43 L201.10,192.03 L201.50,193.42 L201.90,194.60 L202.30,195.56 L202.70,196.40 L203.10,197.15 L203.50,197.80 L203.90,198.37 L204.30,198.88 L204.70,199.36 L205.10,199.79 L205.50,200.16 L205.90,200.44 L206.30,200.65 L206.70,200.85 L207.10,201.02 L207.50,201.14 L207.90,201.20 L208.30,201.20 L208.70,201.20 L209.10,201.20 L209.50,201.20 L209.90,201.20 L210.30,201.20 L210.70,201.20 L211.10,201.20 L211.50,201.20 L211.90,201.20 L212.30,201.20 L212.70,201.20 L213.10,201.20 L213.50,201.20 L213.90,201.20 L214.30,201.20 L214.70,201.20 L215.10,201.20 L215.50,201.20 L215.90,201.20 L216.30,201.20 L216.70,201.20 L217.10,201.20 L217.50,201.20 L217.90,201.20 L218.30,201.20 L218.70,201.20 L219.10,201.20 L219.50,201.20 L219.90,201.20 L220.30,201.20 L220.70,201.20 L221.10,201.20 L221.50,201.20 L221.90,201.20 L222.30,201.20 L222.70,201.20 L223.10,201.20 L223.50,201.20 L223.90,201.20 L224.30,201.20 L224.70,201.20 L225.10,201.20 L225.50,201.20 L225.90,201.20 L226.30,201.20 L226.70,201.20 L227.10,201.20 L227.50,201.20 L227.90,201.20 L228.30,201.20 L228.70,201.20 L229.10,201.20 L229.50,201.20 L229.90,201.20 L230.30,201.20 L230.70,201.20 L231.10,201.20 L231.50,201.20 L231.90,201.20 L232.30,201.20 L232.70,201.20 L233.10,201.20 L233.50,201.20 L233.90,201.20 L234.30,201.20 L234.70,201.20 L235.10,201.20 L235.50,201.20 L235.90,201.20 L236.30,201.20 L236.70,201.20 L237.10,201.20 L237.50,201.20 L237.90,201.20 L238.30,201.20 L238.70,201.20 L239.10,201.20 L239.50,201.20 L239.90,201.20 L240.30,201.20 L240.70,201.20 L241.10,201.20 L241.50,201.20 L241.90,201.20 L242.30,201.20 L242.70,201.20 L243.10,201.20 L243.50,201.20 L243.90,201.20 L244.30,201.20 L244.70,201.20 L245.10,201.20 L245.50,201.20 L245.90,201.20 L246.30,201.20 L246.70,201.20 L247.10,201.20 L247.50,201.20 L247.90,201.20 L248.30,201.20 L248.70,201.20 L249.10,201.20 L249.50,201.20 L249.90,201.20 L250.30,201.20 L250.70,201.20 L251.10,201.20 L251.50,201.20 L251.90,201.20 L252.30,201.20 L252.70,201.20 L253.10,201.20 L253.50,201.20 L253.90,201.20 L254.30,201.20 L254.70,201.20 L255.10,201.20 L255.50,201.20 L255.90,201.20 L256.30,201.20 L256.70,201.20 L257.10,201.20 L257.50,201.20 L257.90,201.20 L258.30,201.20 L258.70,201.20 L259.10,201.20 L259.50,201.20 L259.90,201.20 L260.30,201.20 L260.70,201.20 L261.10,201.20 L261.50,201.20" stroke="#ff9933"/>
<path d="M58.70,201.20 L59.10,201.20 L59.50,201.20 L59.90,201.20 L60.30,201.20 L60.70,201.20 L61.10,201.20 L61.50,201.20 L61.90,201.20 L62.30,201.20 L62.70,201.20 L63.10,201.20 L63.50,201.20 L63.90,201.20 L64.30,201.20 L64.70,201.20 L65.10,201.20 L65.50,201.20 L65.90,201.20 L66.30,201.20 L66.70,201.20 L67.10,201.20 L67.50,201.20 L67.90,201.20 L68.30,201.20 L68.70,201.20 L69.10,201.20 L69.50,201.20 L69.90,201.20 L70.30,201.20 L70.70,201.20 L71.10,201.20 L71.50,201.20 L71.90,201.20 L72.30,201.19 L72.70,201.14 L73.10,201.06 L73.50,200.96 L73.90,200.86 L74.30,200.76 L74.70,200.68 L75.10,200.62 L75.50,200.60 L75.90,200.63 L76.30,200.69 L76.70,200.78 L77.10,200.87 L77.50,200.94 L77.90,200.99 L78.30,201.01 L78.70,201.03 L79.10,201.04 L79.50,201.06 L79.90,201.07 L80.30,201.08 L80.70,201.10 L81.10,201.11 L81.50,201.12 L81.90,201.13 L82.30,201.14 L82.70,201.15 L83.10,201.15 L83.50,201.16 L83.90,201.17 L84.30,201.17 L84.70,201.18 L85.10,201.18 L85.50,201.19 L85.90,201.19 L86.30,201.19 L86.70,201.20 L87.10,201.20 L87.50,201.20 L87.90,201.20 L88.30,201.19 L88.70,201.13 L89.10,201.04 L89.50,200.92 L89.90,200.81 L90.30,200.69 L90.70,200.59 L91.10,200.53 L91.50,200.50 L91.90,200.53 L92.30,200.62 L92.70,200.74 L93.10,200.85 L93.50,200.95 L93.90,201.00 L94.30,201.00 L94.70,200.99 L95.10,200.97 L95.50,200.95 L95.90,200.92 L96.30,200.89 L96.70,200.85 L97.10,200.81 L97.50,200.78 L97.90,200.74 L98.30,200.71 L98.70,200.68 L99.10,200.65 L99.50,200.63 L99.90,200.61 L100.30,200.60 L100.70,200.60 L101.10,200.63 L101.50,200.69 L101.90,200.76 L102.30,200.84 L102.70,200.92 L103.10,200.99 L103.50,201.05 L103.90,201.09 L104.30,201.12 L104.70,201.14 L105.10,201.15 L105.50,201.17 L105.90,201.18 L106.30,201.19 L106.70,201.20 L107.10,201.20 L107.50,201.20 L107.90,201.20 L108.30,201.20 L108.70,201.20 L109.10,201.20 L109.50,201.20 L109.90,201.20 L110.30,201.20 L110.70,201.20 L111.10,201.20 L111.50,201.20 L111.90,201.20 L112.30,201.20 L112.70,201.20 L113.10,201.20 L113.50,201.20 L113.90,201.20 L114.30,201.20 L114.70,201.20 L115.10,201.20 L115.50,201.20 L115.90,201.20 L116.30,201.20 L116.70,201.20 L117.10,201.20 L117.50,201.20 L117.90,201.20 L118.30,201.20 L118.70,201.20 L119.10,201.20 L119.50,201.20 L119.90,201.20 L120.30,201.20 L120.70,201.20 L121.10,201.20 L121.50,201.20 L121.90,201.20 L122.30,201.20 L122.70,201.20 L123.10,201.20 L123.50,201.20 L123.90,201.20 L124.30,201.20 L124.70,201.20 L125.10,201.20 L125.50,201.20 L125.90,201.20 L126.30,201.20 L126.70,201.20 L127.10,201.20 L127.50,201.20 L127.90,201.20 L128.30,201.20 L128.70,201.20 L129.10,201.20 L129.50,201.20 L129.90,201.20 L130.30,201.20 L130.70,201.20 L131.10,201.20 L131.50,201.20 L131.90,201.20 L132.30,201.20 L132.70,201.20 L133.10,201.20 L133.50,201.20 L133.90,201.20 L134.30,201.20 L134.70,201.20 L135.10,201.20 L135.50,201.20 L135.90,201.20 L136.30,201.20 L136.70,201.20 L137.10,201.20 L137.50,201.20 L137.90,201.20 L138.30,201.20 L138.70,201.20 L139.10,201.20 L139.50,201.20 L139.90,201.20 L140.30,201.20 L140.70,201.20 L141.10,201.20 L141.50,201.20 L141.90,201.20 L142.30,201.20 L142.70,201.20 L143.10,201.20 L143.50,201.20 L143.90,201.20 L144.30,201.20 L144.70,201.20 L145.10,201.20 L145.50,201.20 L145.90,201.20 L146.30,201.20 L146.70,201.20 L147.10,201.20 L147.50,201.20 L147.90,201.20 L148.30,201.20 L148.70,201.20 L149.10,201.20 L149.50,201.20 L149.90,201.20 L150.30,201.20 L150.70,201.20 L151.10,201.20 L151.50,201.20 L151.90,201.20 L152.30,201.20 L152.70,201.20 L153.10,201.20 L153.50,201.20 L153.90,201.20 L154.30,201.20 L154.70,201.20 L155.10,201.20 L155.50,201.20 L155.90,201.20 L156.30,201.20 L156.70,201.20 L157.10,201.20 L157.50,201.20 L157.90,201.20 L158.30,201.20 L158.70,201.20 L159.10,201.20 L159.50,201.20 L159.90,201.20 L160.30,201.20 L160.70,201.20 L161.10,201.20 L161.50,201.20 L161.90,201.20 L162.30,201.20 L162.70,201.20 L163.10,201.20 L163.50,201.20 L163.90,201.20 L164.30,201.20 L164.70,201.20 L165.10,201.20 L165.50,201.20 L165.90,201.20 L166.30,201.20 L166.70,201.20 L167.10,201.20 L167.50,201.20 L167.90,201.20 L168.30,201.20 L168.70,201.20 L169.10,201.20 L169.50,201.20 L169.90,201.20 L170.30,201.20 L170.70,201.20 L171.10,201.20 L171.50,201.20 L171.90,201.11 L172.30,200.87 L172.70,200.52 L173.10,200.08 L173.50,199.58 L173.90,199.07 L174.30,198.39 L174.70,197.53 L175.10,196.54 L175.50,195.44 L175.90,194.29 L176.30,193.03 L176.70,191.50 L177.10,189.85 L177.50,188.24 L177.90,186.81 L178.30,185.55 L178.70,184.23 L179.10,183.02 L179.50,182.14 L179.90,181.80 L180.30,181.86 L180.70,182.00 L181.10,182.14 L181.50,182.20 L181.90,181.79 L182.30,180.77 L182.70,179.47 L183.10,178.17 L183.50,176.39 L183.90,174.48 L184.30,173.15 L184.70,172.70 L185.10,172.44 L185.50,172.69 L185.90,174.42 L186.30,176.54 L186.70,179.35 L187.10,181.50 L187.50,182.52 L187.90,183.22 L188.30,183.39 L188.70,183.17 L189.10,182.80 L189.50,182.43 L189.90,182.21 L190.30,182.33 L190.70,182.82 L191.10,183.46 L191.50,184.06 L191.90,184.38 L192.30,184.40 L192.70,184.40 L193.10,184.40 L193.50,184.40 L193.90,184.40 L194.30,184.42 L194.70,184.51 L195.10,184.67 L195.50,184.88 L195.90,185.24 L196.30,186.22 L196.70,187.60 L197.10,189.09 L197.50,191.02 L197.90,193.17 L198.30,195.00 L198.70,196.49 L199.10,197.87 L199.50,198.97 L199.90,199.63 L200.30,200.10 L200.70,200.52 L201.10,200.86 L201.50,201.09 L201.90,201.20 L202.30,201.20 L202.70,201.20 L203.10,201.20 L203.50,201.20 L203.90,201.20 L204.30,201.20 L204.70,201.20 L205.10,201.20 L205.50,201.20 L205.90,201.20 L206.30,201.20 L206.70,201.20 L207.10,201.20 L207.50,201.20 L207.90,201.20 L208.30,201.20 L208.70,201.20 L209.10,201.20 L209.50,201.20 L209.90,201.20 L210.30,201.20 L210.70,201.20 L211.10,201.20 L211.50,201.20 L211.90,201.20 L212.30,201.20 L212.70,201.20 L213.10,201.20 L213.50,201.20 L213.90,201.20 L214.30,201.20 L214.70,201.20 L215.10,201.20 L215.50,201.20 L215.90,201.20 L216.30,201.20 L216.70,201.20 L217.10,201.20 L217.50,201.20 L217.90,201.20 L218.30,201.20 L218.70,201.20 L219.10,201.20 L219.50,201.20 L219.90,201.20 L220.30,201.20 L220.70,201.20 L221.10,201.20 L221.50,201.20 L221.90,201.20 L222.30,201.20 L222.70,201.20 L223.10,201.20 L223.50,201.20 L223.90,201.20 L224.30,201.20 L224.70,201.20 L225.10,201.20 L225.50,201.20 L225.90,201.20 L226.30,201.20 L226.70,201.20 L227.10,201.20 L227.50,201.20 L227.90,201.20 L228.30,201.20 L228.70,201.20 L229.10,201.20 L229.50,201.20 L229.90,201.20 L230.30,201.20 L230.70,201.20 L231.10,201.20 L231.50,201.20 L231.90,201.20 L232.30,201.20 L232.70,201.20 L233.10,201.20 L233.50,201.20 L233.90,201.20 L234.30,201.20 L234.70,201.20 L235.10,201.20 L235.50,201.20 L235.90,201.20 L236.30,201.20 L236.70,201.20 L237.10,201.20 L237.50,201.20 L237.90,201.20 L238.30,201.20 L238.70,201.20 L239.10,201.20 L239.50,201.20 L239.90,201.20 L240.30,201.20 L240.70,201.20 L241.10,201.20 L241.50,201.20 L241.90,201.20 L242.30,201.20 L242.70,201.20 L243.10,201.20 L243.50,201.20 L243.90,201.20 L244.30,201.20 L244.70,201.20 L245.10,201.20 L245.50,201.20 L245.90,201.20 L246.30,201.20 L246.70,201.20 L247.10,201.20 L247.50,201.20 L247.90,201.20 L248.30,201.20 L248.70,201.20 L249.10,201.20 L249.50,201.20 L249.90,201.20 L250.30,201.20 L250.70,201.20 L251.10,201.20 L251.50,201.20 L251.90,201.20 L252.30,201.20 L252.70,201.20 L253.10,201.20 L253.50,201.20 L253.90,201.20 L254.30,201.20 L254.70,201.20 L255.10,201.20 L255.50,201.20 L255.90,201.20 L256.30,201.20 L256.70,201.20 L257.10,201.20 L257.50,201.20 L257.90,201.20 L258.30,201.20 L258.70,201.20 L259.10,201.20 L259.50,201.20 L259.90,201.20 L260.30,201.20 L260.70,201.20 L261.10,201.20 L261.50,201.20" stroke="#33ccff"/>
<path d="M58.70,201.10 L59.10,201.10 L59.50,201.10 L59.90,201.10 L60.30,201.10 L60.70,201.10 L61.10,201.10 L61.50,201.10 L61.90,201.10 L62.30,201.10 L62.70,201.10 L63.10,201.10 L63.50,201.10 L63.90,201.10 L64.30,201.10 L64.70,201.10 L65.10,201.10 L65.50,201.10 L65.90,201.10 L66.30,201.10 L66.70,201.10 L67.10,201.10 L67.50,201.10 L67.90,201.10 L68.30,201.10 L68.70,201.10 L69.10,201.10 L69.50,201.10 L69.90,201.10 L70.30,201.10 L70.70,201.10 L71.10,201.10 L71.50,201.10 L71.90,201.10 L72.30,201.10 L72.70,201.10 L73.10,201.10 L73.50,201.10 L73.90,201.10 L74.30,201.10 L74.70,201.10 L75.10,201.10 L75.50,201.10 L75.90,201.10 L76.30,201.10 L76.70,201.10 L77.10,201.10 L77.50,201.10 L77.90,201.10 L78.30,201.10 L78.70,201.10 L79.10,201.10 L79.50,201.10 L79.90,201.10 L80.30,201.10 L80.70,201.10 L81.10,201.10 L81.50,201.10 L81.90,201.10 L82.30,201.10 L82.70,201.10 L83.10,201.10 L83.50,201.10 L83.90,201.10 L84.30,201.10 L84.70,201.10 L85.10,201.10 L85.50,201.10 L85.90,201.10 L86.30,201.10 L86.70,201.10 L87.10,201.10 L87.50,201.10 L87.90,201.10 L88.30,201.10 L88.70,201.10 L89.10,201.10 L89.50,201.01 L89.90,200.83 L90.30,200.62 L90.70,200.42 L91.10,200.26 L91.50,200.20 L91.90,200.26 L92.30,200.42 L92.70,200.62 L93.10,200.83 L93.50,201.01 L93.90,201.10 L94.30,201.10 L94.70,201.10 L95.10,201.10 L95.50,201.10 L95.90,201.10 L96.30,201.10 L96.70,201.10 L97.10,201.10 L97.50,201.10 L97.90,201.10 L98.30,201.10 L98.70,201.10 L99.10,201.10 L99.50,201.10 L99.90,201.10 L100.30,201.10 L100.70,201.10 L101.10,201.10 L101.50,201.10 L101.90,201.10 L102.30,201.10 L102.70,201.10 L103.10,201.10 L103.50,201.10 L103.90,201.10 L104.30,201.10 L104.70,201.10 L105.10,201.10 L105.50,201.10 L105.90,201.10 L106.30,201.10 L106.70,201.10 L107.10,201.10 L107.50,201.10 L107.90,201.10 L108.30,201.10 L108.70,201.10 L109.10,201.10 L109.50,201.10 L109.90,201.10 L110.30,201.10 L110.70,201.10 L111.10,201.10 L111.50,201.10 L111.90,201.10 L112.30,201.10 L112.70,201.10 L113.10,201.10 L113.50,201.10 L113.90,201.10 L114.30,201.10 L114.70,201.10 L115.10,201.10 L115.50,201.10 L115.90,201.10 L116.30,201.10 L116.70,201.10 L117.10,201.10 L117.50,201.10 L117.90,201.10 L118.30,201.10 L118.70,201.10 L119.10,201.10 L119.50,201.10 L119.90,201.10 L120.30,201.10 L120.70,201.10 L121.10,201.10 L121.50,201.10 L121.90,201.10 L122.30,201.10 L122.70,201.10 L123.10,201.10 L123.50,201.10 L123.90,201.10 L124.30,201.10 L124.70,201.10 L125.10,201.10 L125.50,201.10 L125.90,201.10 L126.30,201.10 L126.70,201.10 L127.10,201.10 L127.50,201.10 L127.90,201.10 L128.30,201.10 L128.70,201.10 L129.10,201.10 L129.50,201.10 L129.90,201.10 L130.30,201.10 L130.70,201.10 L131.10,201.10 L131.50,201.10 L131.90,201.10 L132.30,201.10 L132.70,201.10 L133.10,201.10 L133.50,201.10 L133.90,201.10 L134.30,201.10 L134.70,201.10 L135.10,201.10 L135.50,201.10 L135.90,201.10 L136.30,201.10 L136.70,201.10 L137.10,201.10 L137.50,201.10 L137.90,201.10 L138.30,201.10 L138.70,201.10 L139.10,201.10 L139.50,201.10 L139.90,201.10 L140.30,201.10 L140.70,201.10 L141.10,201.10 L141.50,201.10 L141.90,201.10 L142.30,201.10 L142.70,201.10 L143.10,201.10 L143.50,201.10 L143.90,201.10 L144.30,201.10 L144.70,201.10 L145.10,201.10 L145.50,201.10 L145.90,201.10 L146.30,201.10 L146.70,201.10 L147.10,201.10 L147.50,201.10 L147.90,201.10 L148.30,201.10 L148.70,201.10 L149.10,201.10 L149.50,201.10 L149.90,201.10 L150.30,201.10 L150.70,201.10 L151.10,201.10 L151.50,201.10 L151.90,201.10 L152.30,201.10 L152.70,201.10 L153.10,201.10 L153.50,201.10 L153.90,201.10 L154.30,201.10 L154.70,201.10 L155.10,201.10 L155.50,201.10 L155.90,201.10 L156.30,201.10 L156.70,201.10 L157.10,201.10 L157.50,201.10 L157.90,201.10 L158.30,201.10 L158.70,201.10 L159.10,201.10 L159.50,201.10 L159.90,201.10 L160.30,201.10 L160.70,201.10 L161.10,201.10 L161.50,201.10 L161.90,201.10 L162.30,201.10 L162.70,201.10 L163.10,201.10 L163.50,201.10 L163.90,201.10 L164.30,201.10 L164.70,201.10 L165.10,201.10 L165.50,201.10 L165.90,201.10 L166.30,201.10 L166.70,201.10 L167.10,201.10 L167.50,201.10 L167.90,201.10 L168.30,201.10 L168.70,201.10 L169.10,201.10 L169.50,201.10 L169.90,201.10 L170.30,201.10 L170.70,201.10 L171.10,201.10 L171.50,201.10 L171.90,201.10 L172.30,201.10 L172.70,201.10 L173.10,201.10 L173.50,201.03 L173.90,200.87 L174.30,200.63 L174.70,200.32 L175.10,199.95 L175.50,199.52 L175.90,198.79 L176.30,197.41 L176.70,195.76 L177.10,194.24 L177.50,192.60 L177.90,190.95 L178.30,189.63 L178.70,188.87 L179.10,188.27 L179.50,187.78 L179.90,187.48 L180.30,187.41 L180.70,187.56 L181.10,187.82 L181.50,188.04 L181.90,188.09 L182.30,187.78 L182.70,187.20 L183.10,186.50 L183.50,185.83 L183.90,184.96 L184.30,183.92 L184.70,182.87 L185.10,181.99 L185.50,181.47 L185.90,181.55 L186.30,182.56 L186.70,184.00 L187.10,185.31 L187.50,186.84 L187.90,188.20 L188.30,188.59 L188.70,188.49 L189.10,188.30 L189.50,188.11 L189.90,188.01 L190.30,188.06 L190.70,188.28 L191.10,188.57 L191.50,188.84 L191.90,188.99 L192.30,188.97 L192.70,188.86 L193.10,188.71 L193.50,188.58 L193.90,188.50 L194.30,188.51 L194.70,188.57 L195.10,188.68 L195.50,188.82 L195.90,189.06 L196.30,189.75 L196.70,190.72 L197.10,191.77 L197.50,193.11 L197.90,194.62 L198.30,196.00 L198.70,197.28 L199.10,198.55 L199.50,199.56 L199.90,200.09 L200.30,200.41 L200.70,200.68 L201.10,200.89 L201.50,201.03 L201.90,201.10 L202.30,201.10 L202.70,201.10 L203.10,201.10 L203.50,201.10 L203.90,201.10 L204.30,201.10 L204.70,201.10 L205.10,201.10 L205.50,201.10 L205.90,201.10 L206.30,201.10 L206.70,201.10 L207.10,201.10 L207.50,201.10 L207.90,201.10 L208.30,201.10 L208.70,201.10 L209.10,201.10 L209.50,201.10 L209.90,201.10 L210.30,201.10 L210.70,201.10 L211.10,201.10 L211.50,201.10 L211.90,201.10 L212.30,201.10 L212.70,201.10 L213.10,201.10 L213.50,201.10 L213.90,201.10 L214.30,201.10 L214.70,201.10 L215.10,201.10 L215.50,201.10 L215.90,201.10 L216.30,201.10 L216.70,201.10 L217.10,201.10 L217.50,201.10 L217.90,201.10 L218.30,201.10 L218.70,201.10 L219.10,201.10 L219.50,201.10 L219.90,201.10 L220.30,201.10 L220.70,201.10 L221.10,201.10 L221.50,201.10 L221.90,201.10 L222.30,201.10 L222.70,201.10 L223.10,201.10 L223.50,201.10 L223.90,201.10 L224.30,201.10 L224.70,201.10 L225.10,201.10 L225.50,201.10 L225.90,201.10 L226.30,201.10 L226.70,201.10 L227.10,201.10 L227.50,201.10 L227.90,201.10 L228.30,201.10 L228.70,201.10 L229.10,201.10 L229.50,201.10 L229.90,201.10 L230.30,201.10 L230.70,201.10 L231.10,201.10 L231.50,201.10 L231.90,201.10 L232.30,201.10 L232.70,201.10 L233.10,201.10 L233.50,201.10 L233.90,201.10 L234.30,201.10 L234.70,201.10 L235.10,201.10 L235.50,201.10 L235.90,201.10 L236.30,201.10 L236.70,201.10 L237.10,201.10 L237.50,201.10 L237.90,201.10 L238.30,201.10 L238.70,201.10 L239.10,201.10 L239.50,201.10 L239.90,201.10 L240.30,201.10 L240.70,201.10 L241.10,201.10 L241.50,201.10 L241.90,201.10 L242.30,201.10 L242.70,201.10 L243.10,201.10 L243.50,201.10 L243.90,201.10 L244.30,201.10 L244.70,201.10 L245.10,201.10 L245.50,201.10 L245.90,201.10 L246.30,201.10 L246.70,201.10 L247.10,201.10 L247.50,201.10 L247.90,201.10 L248.30,201.10 L248.70,201.10 L249.10,201.10 L249.50,201.10 L249.90,201.10 L250.30,201.10 L250.70,201.10 L251.10,201.10 L251.50,201.10 L251.90,201.10 L252.30,201.10 L252.70,201.10 L253.10,201.10 L253.50,201.10 L253.90,201.10 L254.30,201.10 L254.70,201.10 L255.10,201.10 L255.50,201.10 L255.90,201.10 L256.30,201.10 L256.70,201.10 L257.10,201.10 L257.50,201.10 L257.90,201.10 L258.30,201.10 L258.70,201.10 L259.10,201.10 L259.50,201.10 L259.90,201.10 L260.30,201.10 L260.70,201.10 L261.10,201.10 L261.50,201.10" stroke="#9436f8"/>
</g>
<path d="M59.30,201.15 H164 M209,201.15 H261.10" stroke="#6a1ee8" stroke-width="1.2" fill="none"/>
<path d="M330.00,30.1 V202.70 M532.70,30.1 V202.70" stroke="#707070" stroke-width="1.9"/>
<path d="M328.80,30.6 H533.60 M329.10,202.10 H533.60" stroke="#111" stroke-width="1.25"/>
<path d="M58.70,202.10 h-3.3 M58.70,167.80 h-3.3 M58.70,133.50 h-3.3 M58.70,99.20 h-3.3 M58.70,64.90 h-3.3 M58.70,202.10 v3.6 M99.28,202.10 v3.6 M139.86,202.10 v3.6 M180.44,202.10 v3.6 M221.02,202.10 v3.6 M261.60,202.10 v3.6 M330.00,202.10 h-3.3 M330.00,181.95 h-3.3 M330.00,161.80 h-3.3 M330.00,141.65 h-3.3 M330.00,121.50 h-3.3 M330.00,101.35 h-3.3 M330.00,81.20 h-3.3 M330.00,61.05 h-3.3 M330.00,40.90 h-3.3 M330.00,202.10 v3.6 M358.96,202.10 v3.6 M387.91,202.10 v3.6 M416.87,202.10 v3.6 M445.83,202.10 v3.6 M474.79,202.10 v3.6 M503.74,202.10 v3.6 M532.70,202.10 v3.6" stroke="#111" stroke-width="1.3" fill="none"/>
<path d="M58.70,184.95 h-2.0 M58.70,150.65 h-2.0 M58.70,116.35 h-2.0 M58.70,82.05 h-2.0 M58.70,47.75 h-2.0 M78.99,202.10 v2.2 M119.57,202.10 v2.2 M160.15,202.10 v2.2 M200.73,202.10 v2.2 M241.31,202.10 v2.2 M330.00,192.03 h-2.0 M330.00,171.88 h-2.0 M330.00,151.72 h-2.0 M330.00,131.57 h-2.0 M330.00,111.42 h-2.0 M330.00,91.27 h-2.0 M330.00,71.12 h-2.0 M330.00,50.97 h-2.0 M330.00,30.82 h-2.0 M344.48,202.10 v2.2 M373.44,202.10 v2.2 M402.39,202.10 v2.2 M431.35,202.10 v2.2 M460.31,202.10 v2.2 M489.26,202.10 v2.2 M518.22,202.10 v2.2" stroke="#111" stroke-width="1.1" fill="none"/>
<g class="tk">
<text transform="translate(53.90,206.00) scale(1,1.1)" text-anchor="end">0</text>
<text transform="translate(53.90,171.70) scale(1,1.1)" text-anchor="end">2000</text>
<text transform="translate(53.90,137.40) scale(1,1.1)" text-anchor="end">4000</text>
<text transform="translate(53.90,103.10) scale(1,1.1)" text-anchor="end">6000</text>
<text transform="translate(53.90,68.80) scale(1,1.1)" text-anchor="end">8000</text>
<text transform="translate(58.70,215.90) scale(1,1.1)" text-anchor="middle">500</text>
<text transform="translate(99.28,215.90) scale(1,1.1)" text-anchor="middle">550</text>
<text transform="translate(139.86,215.90) scale(1,1.1)" text-anchor="middle">600</text>
<text transform="translate(180.44,215.90) scale(1,1.1)" text-anchor="middle">650</text>
<text transform="translate(221.02,215.90) scale(1,1.1)" text-anchor="middle">700</text>
<text transform="translate(261.60,215.90) scale(1,1.1)" text-anchor="middle">750</text>
<text transform="translate(325.20,205.40) scale(1,1.1)" text-anchor="end">0</text>
<text transform="translate(325.20,185.25) scale(1,1.1)" text-anchor="end">1000</text>
<text transform="translate(325.20,165.10) scale(1,1.1)" text-anchor="end">2000</text>
<text transform="translate(325.20,144.95) scale(1,1.1)" text-anchor="end">3000</text>
<text transform="translate(325.20,124.80) scale(1,1.1)" text-anchor="end">4000</text>
<text transform="translate(325.20,104.65) scale(1,1.1)" text-anchor="end">5000</text>
<text transform="translate(325.20,84.50) scale(1,1.1)" text-anchor="end">6000</text>
<text transform="translate(325.20,64.35) scale(1,1.1)" text-anchor="end">7000</text>
<text transform="translate(325.20,44.20) scale(1,1.1)" text-anchor="end">8000</text>
<text transform="translate(330.00,215.90) scale(1,1.1)" text-anchor="middle">1350</text>
<text transform="translate(358.96,215.90) scale(1,1.1)" text-anchor="middle">1400</text>
<text transform="translate(387.91,215.90) scale(1,1.1)" text-anchor="middle">1450</text>
<text transform="translate(416.87,215.90) scale(1,1.1)" text-anchor="middle">1500</text>
<text transform="translate(445.83,215.90) scale(1,1.1)" text-anchor="middle">1550</text>
<text transform="translate(474.79,215.90) scale(1,1.1)" text-anchor="middle">1600</text>
<text transform="translate(503.74,215.90) scale(1,1.1)" text-anchor="middle">1650</text>
<text transform="translate(532.70,215.90) scale(1,1.1)" text-anchor="middle">1700</text>
</g>
<path d="M61.6,37.80 H79.6" stroke="#a2ee30" stroke-width="1.35"/><text x="81.4" y="40.90" class="lg">KMnF<tspan class="sub" dy="1.6">3</tspan><tspan dy="-1.6"> 18Yb,0.5Er</tspan></text><path d="M61.6,49.55 H79.6" stroke="#b02222" stroke-width="1.35"/><text x="81.4" y="52.65" class="lg">KMnF<tspan class="sub" dy="1.6">3</tspan><tspan dy="-1.6"> 18Yb,1Er</tspan></text><path d="M61.6,61.30 H79.6" stroke="#ff9933" stroke-width="1.35"/><text x="81.4" y="64.40" class="lg">KMnF<tspan class="sub" dy="1.6">3</tspan><tspan dy="-1.6"> 18Yb,2Er</tspan></text><path d="M61.6,73.05 H79.6" stroke="#33ccff" stroke-width="1.35"/><text x="81.4" y="76.15" class="lg">KMnF<tspan class="sub" dy="1.6">3</tspan><tspan dy="-1.6"> 18Yb,3Er</tspan></text><path d="M61.6,84.80 H79.6" stroke="#9436f8" stroke-width="1.35"/><text x="81.4" y="87.90" class="lg">KMnF<tspan class="sub" dy="1.6">3</tspan><tspan dy="-1.6"> 18Yb,4Er</tspan></text>
<path d="M331.8,37.80 H349.9" stroke="#a2ee30" stroke-width="1.35"/><text x="351.2" y="41.10" class="lg">KMnF<tspan class="sub" dy="1.6">3</tspan><tspan dy="-1.6">:18Yb,0.5Er</tspan></text><path d="M331.8,49.50 H349.9" stroke="#b02222" stroke-width="1.35"/><text x="351.2" y="52.80" class="lg">KMnF<tspan class="sub" dy="1.6">3</tspan><tspan dy="-1.6">:18Yb,1Er</tspan></text><path d="M331.8,61.20 H349.9" stroke="#ff9933" stroke-width="1.35"/><text x="351.2" y="64.50" class="lg">KMnF<tspan class="sub" dy="1.6">3</tspan><tspan dy="-1.6">:18Yb,2Er</tspan></text><path d="M331.8,72.90 H349.9" stroke="#33ccff" stroke-width="1.35"/><text x="351.2" y="76.20" class="lg">KMnF<tspan class="sub" dy="1.6">3</tspan><tspan dy="-1.6">:18Yb,3Er</tspan></text><path d="M331.8,84.60 H349.9" stroke="#9436f8" stroke-width="1.35"/><text x="351.2" y="87.90" class="lg">KMnF<tspan class="sub" dy="1.6">3</tspan><tspan dy="-1.6">:18Yb,4Er</tspan></text>
<text class="ttl" x="27.6" y="22.0" font-size="19">(a)</text>
<text class="ttl" x="278.6" y="19.9" font-size="19">(b)</text>
<text class="ttl" font-size="14.5" transform="translate(23.6,155.8) rotate(-90)">Intensity(a.u.)</text>
<text class="ttl" font-size="14.5" transform="translate(294.8,152.6) rotate(-90)">Intensity(a.u.)</text>
<text class="ttl" font-size="14" x="110.3" y="235.7">Wavelength(nm)</text>
<text class="ttl" font-size="13.9" x="381.8" y="235.7">Wavelength(nm)</text>
</svg>
</body></html>
